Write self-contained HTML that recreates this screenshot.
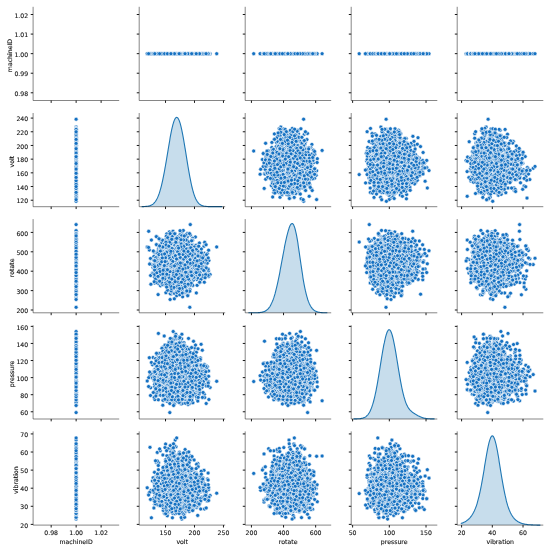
<!DOCTYPE html><html><head><meta charset="utf-8"><style>html,body{margin:0;padding:0;background:#fff;overflow:hidden}svg{display:block;filter:blur(.3px)}</style></head><body><svg width="550" height="549" viewBox="0 0 550 549">
<defs><marker id="m" markerUnits="userSpaceOnUse" markerWidth="5" markerHeight="5" viewBox="-2.5 -2.5 5 5" refX="0" refY="0" overflow="visible"><circle r="2" fill="#1571c2" stroke="#fff" stroke-width=".6"/></marker></defs>
<style>text{font-family:"DejaVu Sans",sans-serif;font-size:6.2px;fill:#111;stroke:#111;stroke-width:.12px}.s{stroke:#000;stroke-width:.48;fill:none}.t{stroke:#000;stroke-width:.9;fill:none}.p{fill:none;stroke:none;marker-start:url(#m);marker-mid:url(#m);marker-end:url(#m)}</style>
<path class="s" d="M33.1,6.8V100.5H119.2"/>
<path class="t" d="M51.17,100.50v2.40M76.14,100.50v2.40M101.12,100.50v2.40M33.12,92.79h-2.40M33.12,73.22h-2.40M33.12,53.65h-2.40M33.12,34.08h-2.40M33.12,14.51h-2.40"/>
<text x="28.22" y="95.99" text-anchor="end">0.98</text>
<text x="28.22" y="76.42" text-anchor="end">0.99</text>
<text x="28.22" y="56.85" text-anchor="end">1.00</text>
<text x="28.22" y="37.28" text-anchor="end">1.01</text>
<text x="28.22" y="17.71" text-anchor="end">1.02</text>
<text transform="translate(11.60,55.55) rotate(-90)" text-anchor="middle">machineID</text>
<polyline class="p" points="210.1,53.7 208.9,53.7 207.4,53.7 208.6,53.7 152.4,53.7 206.5,53.7 151.4,53.7 150.6,53.7 153.1,53.7 206.2,53.7 147.2,53.7 154.9,53.7 208.6,53.7 202.3,53.7 202.4,53.7 204.7,53.7 216.7,53.7 153.9,53.7 208.2,53.7 154.6,53.7 150.9,53.7 208.1,53.7 153.3,53.7 192.8,53.7 160.9,53.7 161.6,53.7 200.7,53.7 206.2,53.7 201.4,53.7 157.8,53.7 201.2,53.7 194.8,53.7 197.1,53.7 202.7,53.7 197.7,53.7 156.9,53.7 160.5,53.7 203.7,53.7 149.6,53.7 159,53.7 193.7,53.7 194.6,53.7 205.1,53.7 160.3,53.7 160.1,53.7 156.5,53.7 198,53.7 188.8,53.7 189.6,53.7 155.8,53.7 185.9,53.7 186.8,53.7 199.7,53.7 168.1,53.7 195.7,53.7 192.6,53.7 154.7,53.7 158.1,53.7 198.9,53.7 176.9,53.7 162.3,53.7 163.8,53.7 162.9,53.7 185.8,53.7 164.3,53.7 163.2,53.7 199.6,53.7 190.1,53.7 166.1,53.7 166.6,53.7 187,53.7 187.3,53.7 168.7,53.7 161.7,53.7 148.6,53.7 206.1,53.7 181.4,53.7 165.1,53.7 185.6,53.7 158,53.7 170.5,53.7 172.8,53.7 188.3,53.7 180.9,53.7 182,53.7 192.6,53.7 189.9,53.7 169.5,53.7 176.6,53.7 164.6,53.7 154.8,53.7 175.4,53.7 177.7,53.7 176.4,53.7 177.9,53.7 176.5,53.7 191,53.7 188,53.7 182.9,53.7 170.7,53.7 167.4,53.7 183.7,53.7 183.9,53.7 192.3,53.7 185.4,53.7 171.4,53.7 172,53.7 159.6,53.7 175.3,53.7 185,53.7 180.4,53.7 173.6,53.7 191.7,53.7 178.6,53.7 174.5,53.7 170.9,53.7 180.2,53.7 196.2,53.7 179.2,53.7"/>
<path class="s" d="M139.2,6.8V100.5H225.2"/>
<path class="t" d="M165.52,100.50v2.40M194.49,100.50v2.40M223.46,100.50v2.40M139.15,92.79h-2.40M139.15,73.22h-2.40M139.15,53.65h-2.40M139.15,34.08h-2.40M139.15,14.51h-2.40"/>
<polyline class="p" points="253.7,53.7 316,53.7 322.1,53.7 260.7,53.7 265,53.7 317.3,53.7 315.4,53.7 316.6,53.7 262.4,53.7 260.1,53.7 317.1,53.7 263.2,53.7 266.8,53.7 267.3,53.7 264,53.7 314.8,53.7 267,53.7 265.5,53.7 268.3,53.7 311.3,53.7 271.9,53.7 312.2,53.7 314.6,53.7 306.9,53.7 309.5,53.7 265.9,53.7 273.5,53.7 306.1,53.7 313.6,53.7 267.2,53.7 274.1,53.7 307.9,53.7 307.6,53.7 270.1,53.7 308.9,53.7 310.8,53.7 269.3,53.7 271.2,53.7 309.9,53.7 276.2,53.7 308.7,53.7 264.2,53.7 275.7,53.7 281,53.7 286.4,53.7 272.7,53.7 282,53.7 302.4,53.7 272.3,53.7 307.5,53.7 305.3,53.7 270.4,53.7 304.2,53.7 278.5,53.7 312.7,53.7 276.7,53.7 305.4,53.7 292.6,53.7 274.4,53.7 270.8,53.7 284.2,53.7 297.2,53.7 290.8,53.7 279.2,53.7 301.5,53.7 274.4,53.7 287.1,53.7 289.6,53.7 291.6,53.7 303.6,53.7 290.2,53.7 300.8,53.7 304.1,53.7 277.9,53.7 300.3,53.7 286.1,53.7 287.3,53.7 296.4,53.7 299.6,53.7 285.9,53.7 280.8,53.7 274.8,53.7 283.7,53.7 282.9,53.7 299.9,53.7 293.5,53.7 285.3,53.7 298.6,53.7 277,53.7 294.1,53.7 284.8,53.7 293.5,53.7 300.2,53.7 279.7,53.7 295.3,53.7 287.4,53.7 275.3,53.7 288.9,53.7 288.7,53.7 290.3,53.7 287.9,53.7 279.9,53.7 302.6,53.7 287.9,53.7 300,53.7 295,53.7 282.4,53.7 297.6,53.7"/>
<path class="s" d="M245.2,6.8V100.5H331.2"/>
<path class="t" d="M251.43,100.50v2.40M283.54,100.50v2.40M315.65,100.50v2.40M245.18,92.79h-2.40M245.18,73.22h-2.40M245.18,53.65h-2.40M245.18,34.08h-2.40M245.18,14.51h-2.40"/>
<polyline class="p" points="421.6,53.7 420.6,53.7 425.1,53.7 424.3,53.7 414.5,53.7 427.3,53.7 429,53.7 422.6,53.7 424.9,53.7 426.7,53.7 419.3,53.7 417.3,53.7 420.5,53.7 418.7,53.7 366.5,53.7 418.2,53.7 369,53.7 423,53.7 371.4,53.7 369.8,53.7 413.1,53.7 412.4,53.7 419.9,53.7 423.7,53.7 423.1,53.7 415.7,53.7 417.1,53.7 416.7,53.7 367.1,53.7 372,53.7 372.3,53.7 368,53.7 413.8,53.7 372.7,53.7 408.4,53.7 405.8,53.7 370.8,53.7 405,53.7 367.7,53.7 415.1,53.7 365.6,53.7 359.2,53.7 412.3,53.7 410.2,53.7 404,53.7 406.8,53.7 414,53.7 408.6,53.7 403.1,53.7 404.9,53.7 370.2,53.7 376.4,53.7 374.7,53.7 409.2,53.7 411.7,53.7 415.1,53.7 375.5,53.7 391.5,53.7 373.6,53.7 395,53.7 387.1,53.7 370.2,53.7 393.7,53.7 411.2,53.7 404.8,53.7 402.5,53.7 376.5,53.7 400.7,53.7 373.8,53.7 407.4,53.7 399.4,53.7 401.5,53.7 394.8,53.7 381.6,53.7 372.8,53.7 375,53.7 379,53.7 376.8,53.7 413.8,53.7 380.3,53.7 399.7,53.7 396.9,53.7 395.8,53.7 385.8,53.7 391.6,53.7 392.7,53.7 398.5,53.7 394.3,53.7 397.5,53.7 383.8,53.7 387.7,53.7 377.5,53.7 383.5,53.7 392.8,53.7 384.9,53.7 379.6,53.7 378.2,53.7 402.4,53.7 401.3,53.7 404.2,53.7 386.3,53.7 380.9,53.7 383.3,53.7 378.2,53.7 382.6,53.7 396.4,53.7 381.3,53.7 390.5,53.7 365.4,53.7 386.2,53.7 388.2,53.7 384.6,53.7 389.1,53.7 389.5,53.7 389.7,53.7"/>
<path class="s" d="M351.2,6.8V100.5H437.3"/>
<path class="t" d="M352.61,100.50v2.40M389.32,100.50v2.40M426.03,100.50v2.40M351.21,92.79h-2.40M351.21,73.22h-2.40M351.21,53.65h-2.40M351.21,34.08h-2.40M351.21,14.51h-2.40"/>
<polyline class="p" points="529.8,53.7 525.2,53.7 533.2,53.7 469.2,53.7 527.4,53.7 527,53.7 528.3,53.7 526.7,53.7 468.9,53.7 466.1,53.7 520.6,53.7 467.2,53.7 525.3,53.7 514.7,53.7 467.6,53.7 470.2,53.7 521.1,53.7 535,53.7 470.6,53.7 471.8,53.7 523.1,53.7 528.5,53.7 521.2,53.7 521.4,53.7 523.4,53.7 472.4,53.7 530,53.7 472.7,53.7 470.7,53.7 519.9,53.7 518.2,53.7 515,53.7 515.9,53.7 517.8,53.7 515.2,53.7 471.2,53.7 519.4,53.7 505.7,53.7 513.6,53.7 513.9,53.7 479.5,53.7 470.8,53.7 473.8,53.7 507.9,53.7 526.6,53.7 477.7,53.7 522.1,53.7 477.5,53.7 478.5,53.7 475.9,53.7 475.7,53.7 507.2,53.7 504.3,53.7 522.2,53.7 501.7,53.7 480.3,53.7 511.4,53.7 506.5,53.7 525.7,53.7 508.6,53.7 475.5,53.7 473.1,53.7 510.5,53.7 473.3,53.7 512.7,53.7 503.9,53.7 512.3,53.7 482,53.7 475.4,53.7 485.2,53.7 473.3,53.7 476.8,53.7 524.1,53.7 519.2,53.7 488.3,53.7 503.5,53.7 474.7,53.7 505.3,53.7 487.8,53.7 498.7,53.7 502.7,53.7 491.9,53.7 511.7,53.7 501.6,53.7 500.3,53.7 516.5,53.7 479.8,53.7 482.8,53.7 517.3,53.7 498.1,53.7 496.9,53.7 500.6,53.7 505.4,53.7 485.8,53.7 481,53.7 485.2,53.7 501.5,53.7 492.6,53.7 478.7,53.7 493.7,53.7 487.4,53.7 499.4,53.7 474.9,53.7 490.2,53.7 494.8,53.7 489.3,53.7 491.2,53.7 494,53.7 509.5,53.7 498,53.7 486.3,53.7 491.6,53.7 495.4,53.7 483.8,53.7 490.5,53.7 508.9,53.7 484.2,53.7 483.9,53.7 486.7,53.7 482.4,53.7 509,53.7 496.4,53.7"/>
<path class="s" d="M457.2,6.8V100.5H543.3"/>
<path class="t" d="M461.60,100.50v2.40M492.31,100.50v2.40M523.02,100.50v2.40M457.24,92.79h-2.40M457.24,73.22h-2.40M457.24,53.65h-2.40M457.24,34.08h-2.40M457.24,14.51h-2.40"/>
<polyline class="p" points="76.1,127.1 76.1,128.4 76.1,198.1 76.1,130.2 76.1,197.4 76.1,128.8 76.1,195.2 76.1,133.9 76.1,131.3 76.1,196.3 76.1,197.3 76.1,194.3 76.1,201.3 76.1,191.7 76.1,192.2 76.1,128.8 76.1,138.4 76.1,136.3 76.1,198.8 76.1,136.1 76.1,133.4 76.1,119.2 76.1,193.4 76.1,129.2 76.1,192.6 76.1,197 76.1,189.2 76.1,129.4 76.1,134.9 76.1,194.1 76.1,147.4 76.1,185.2 76.1,184.4 76.1,138.2 76.1,131.7 76.1,137.3 76.1,140.5 76.1,132.3 76.1,188.8 76.1,144.7 76.1,137.5 76.1,145.1 76.1,142.4 76.1,135.8 76.1,145.6 76.1,141.6 76.1,189.9 76.1,185.6 76.1,134.6 76.1,198.5 76.1,187.4 76.1,146.4 76.1,145.3 76.1,132.9 76.1,185.8 76.1,186.1 76.1,190.3 76.1,155.4 76.1,141.3 76.1,152.2 76.1,151.3 76.1,191.2 76.1,155.6 76.1,149.8 76.1,154.6 76.1,139.3 76.1,176.7 76.1,144 76.1,147.7 76.1,179.8 76.1,192.4 76.1,188.4 76.1,140.2 76.1,166.3 76.1,183.5 76.1,169.7 76.1,181.7 76.1,182.7 76.1,155.7 76.1,181.1 76.1,182.4 76.1,139.4 76.1,150.6 76.1,167.6 76.1,179 76.1,178.4 76.1,154.3 76.1,153.9 76.1,175.9 76.1,157.5 76.1,184.2 76.1,199.7 76.1,131.8 76.1,161 76.1,180.2 76.1,156 76.1,162.9 76.1,174.2 76.1,188.5 76.1,173.8 76.1,171.1 76.1,152.7 76.1,161.5 76.1,160.2 76.1,147.7 76.1,150.9 76.1,174.9 76.1,180.7 76.1,192.4 76.1,168 76.1,165.3 76.1,166.8 76.1,165.1 76.1,166.7 76.1,149.5 76.1,153.1 76.1,159.1 76.1,173.6 76.1,177.4 76.1,158.2 76.1,157.9 76.1,148 76.1,156.2 76.1,172.8 76.1,172 76.1,186.6 76.1,168.2 76.1,156.7 76.1,162.1 76.1,170.1 76.1,148.7 76.1,164.2 76.1,169.1 76.1,173.3 76.1,162.3 76.1,143.4 76.1,163.5"/>
<path class="s" d="M33.1,113V206.7H119.2"/>
<path class="t" d="M51.17,206.65v2.40M76.14,206.65v2.40M101.12,206.65v2.40M33.12,200.22h-2.40M33.12,186.53h-2.40M33.12,172.84h-2.40M33.12,159.15h-2.40M33.12,145.46h-2.40M33.12,131.77h-2.40M33.12,118.08h-2.40"/>
<text x="28.22" y="203.42" text-anchor="end">120</text>
<text x="28.22" y="189.73" text-anchor="end">140</text>
<text x="28.22" y="176.04" text-anchor="end">160</text>
<text x="28.22" y="162.35" text-anchor="end">180</text>
<text x="28.22" y="148.66" text-anchor="end">200</text>
<text x="28.22" y="134.97" text-anchor="end">220</text>
<text x="28.22" y="121.28" text-anchor="end">240</text>
<text transform="translate(13.57,161.70) rotate(-90)" text-anchor="middle">volt</text>
<path d="M142.2,206.7 L142.2,206.6 142.6,206.6 143,206.6 143.4,206.6 143.8,206.6 144.2,206.5 144.6,206.5 145,206.5 145.4,206.5 145.8,206.4 146.2,206.4 146.6,206.4 147,206.3 147.4,206.3 147.8,206.2 148.2,206.1 148.6,206.1 149,206 149.4,205.9 149.8,205.7 150.2,205.6 150.6,205.4 151,205.3 151.4,205.1 151.8,204.9 152.2,204.6 152.6,204.4 153,204.1 153.4,203.7 153.8,203.4 154.2,202.9 154.6,202.5 155,202 155.4,201.5 155.8,200.9 156.2,200.2 156.6,199.5 157,198.8 157.4,198 157.8,197.1 158.2,196.1 158.6,195.1 159,194 159.4,192.8 159.8,191.6 160.2,190.2 160.6,188.8 161,187.3 161.4,185.8 161.8,184.1 162.2,182.4 162.6,180.6 163,178.7 163.4,176.7 163.8,174.7 164.2,172.6 164.6,170.5 165,168.2 165.4,166 165.8,163.7 166.2,161.3 166.6,159 167,156.6 167.4,154.2 167.8,151.8 168.2,149.4 168.6,147 169,144.6 169.4,142.3 169.8,140 170.1,137.8 170.5,135.6 170.9,133.6 171.3,131.6 171.7,129.7 172.1,127.9 172.5,126.3 172.9,124.7 173.3,123.3 173.7,122 174.1,120.9 174.5,119.9 174.9,119.1 175.3,118.4 175.7,117.9 176.1,117.6 176.5,117.4 176.9,117.4 177.3,117.6 177.7,117.9 178.1,118.4 178.5,119.1 178.9,119.9 179.3,120.8 179.7,122 180.1,123.2 180.5,124.7 180.9,126.2 181.3,127.9 181.7,129.7 182.1,131.6 182.5,133.6 182.9,135.7 183.3,137.9 183.7,140.2 184.1,142.5 184.5,144.9 184.9,147.3 185.3,149.7 185.7,152.2 186.1,154.7 186.5,157.2 186.9,159.7 187.3,162.2 187.7,164.6 188.1,167 188.5,169.4 188.9,171.7 189.3,173.9 189.7,176.1 190.1,178.2 190.5,180.2 190.9,182.2 191.3,184 191.7,185.8 192.1,187.5 192.5,189.1 192.9,190.6 193.3,192 193.7,193.3 194.1,194.6 194.5,195.7 194.9,196.8 195.3,197.7 195.7,198.7 196.1,199.5 196.5,200.3 196.9,200.9 197.3,201.6 197.7,202.2 198.1,202.7 198.5,203.1 198.9,203.6 199.3,203.9 199.7,204.3 200.1,204.6 200.5,204.8 200.9,205.1 201.3,205.3 201.7,205.5 202.1,205.6 202.5,205.8 202.9,205.9 203.3,206 203.7,206.1 204.1,206.2 204.5,206.2 204.9,206.3 205.3,206.3 205.7,206.4 206.1,206.4 206.5,206.5 206.9,206.5 207.3,206.5 207.7,206.5 208.1,206.6 208.5,206.6 208.9,206.6 209.3,206.6 209.7,206.6 210.1,206.6 210.5,206.6 210.9,206.6 211.3,206.6 211.7,206.6 212.1,206.6 212.5,206.6 212.9,206.6 213.3,206.6 213.7,206.6 214.1,206.6 214.5,206.6 214.9,206.6 215.3,206.6 215.7,206.6 216.1,206.6 216.5,206.6 216.9,206.6 217.3,206.6 217.7,206.6 218.1,206.6 218.5,206.6 218.9,206.6 219.3,206.6 219.7,206.6 220.1,206.6 220.5,206.6 220.9,206.6 221.3,206.6 221.7,206.6 L221.7,206.7Z" fill="#1f77b4" fill-opacity=".25"/>
<polyline points="142.2,206.6 142.6,206.6 143,206.6 143.4,206.6 143.8,206.6 144.2,206.5 144.6,206.5 145,206.5 145.4,206.5 145.8,206.4 146.2,206.4 146.6,206.4 147,206.3 147.4,206.3 147.8,206.2 148.2,206.1 148.6,206.1 149,206 149.4,205.9 149.8,205.7 150.2,205.6 150.6,205.4 151,205.3 151.4,205.1 151.8,204.9 152.2,204.6 152.6,204.4 153,204.1 153.4,203.7 153.8,203.4 154.2,202.9 154.6,202.5 155,202 155.4,201.5 155.8,200.9 156.2,200.2 156.6,199.5 157,198.8 157.4,198 157.8,197.1 158.2,196.1 158.6,195.1 159,194 159.4,192.8 159.8,191.6 160.2,190.2 160.6,188.8 161,187.3 161.4,185.8 161.8,184.1 162.2,182.4 162.6,180.6 163,178.7 163.4,176.7 163.8,174.7 164.2,172.6 164.6,170.5 165,168.2 165.4,166 165.8,163.7 166.2,161.3 166.6,159 167,156.6 167.4,154.2 167.8,151.8 168.2,149.4 168.6,147 169,144.6 169.4,142.3 169.8,140 170.1,137.8 170.5,135.6 170.9,133.6 171.3,131.6 171.7,129.7 172.1,127.9 172.5,126.3 172.9,124.7 173.3,123.3 173.7,122 174.1,120.9 174.5,119.9 174.9,119.1 175.3,118.4 175.7,117.9 176.1,117.6 176.5,117.4 176.9,117.4 177.3,117.6 177.7,117.9 178.1,118.4 178.5,119.1 178.9,119.9 179.3,120.8 179.7,122 180.1,123.2 180.5,124.7 180.9,126.2 181.3,127.9 181.7,129.7 182.1,131.6 182.5,133.6 182.9,135.7 183.3,137.9 183.7,140.2 184.1,142.5 184.5,144.9 184.9,147.3 185.3,149.7 185.7,152.2 186.1,154.7 186.5,157.2 186.9,159.7 187.3,162.2 187.7,164.6 188.1,167 188.5,169.4 188.9,171.7 189.3,173.9 189.7,176.1 190.1,178.2 190.5,180.2 190.9,182.2 191.3,184 191.7,185.8 192.1,187.5 192.5,189.1 192.9,190.6 193.3,192 193.7,193.3 194.1,194.6 194.5,195.7 194.9,196.8 195.3,197.7 195.7,198.7 196.1,199.5 196.5,200.3 196.9,200.9 197.3,201.6 197.7,202.2 198.1,202.7 198.5,203.1 198.9,203.6 199.3,203.9 199.7,204.3 200.1,204.6 200.5,204.8 200.9,205.1 201.3,205.3 201.7,205.5 202.1,205.6 202.5,205.8 202.9,205.9 203.3,206 203.7,206.1 204.1,206.2 204.5,206.2 204.9,206.3 205.3,206.3 205.7,206.4 206.1,206.4 206.5,206.5 206.9,206.5 207.3,206.5 207.7,206.5 208.1,206.6 208.5,206.6 208.9,206.6 209.3,206.6 209.7,206.6 210.1,206.6 210.5,206.6 210.9,206.6 211.3,206.6 211.7,206.6 212.1,206.6 212.5,206.6 212.9,206.6 213.3,206.6 213.7,206.6 214.1,206.6 214.5,206.6 214.9,206.6 215.3,206.6 215.7,206.6 216.1,206.6 216.5,206.6 216.9,206.6 217.3,206.6 217.7,206.6 218.1,206.6 218.5,206.6 218.9,206.6 219.3,206.6 219.7,206.6 220.1,206.6 220.5,206.6 220.9,206.6 221.3,206.6 221.7,206.6" fill="none" stroke="#1f77b4" stroke-width="1.1" stroke-linejoin="round" stroke-linecap="square"/>
<path class="s" d="M139.2,113V206.7H225.2"/>
<path class="t" d="M165.52,206.65v2.40M194.49,206.65v2.40M223.46,206.65v2.40M139.15,200.22h-2.40M139.15,186.53h-2.40M139.15,172.84h-2.40M139.15,159.15h-2.40M139.15,145.46h-2.40M139.15,131.77h-2.40M139.15,118.08h-2.40"/>
<polyline class="p" points="280.8,127.1 292.3,128.4 272.4,186.3 264,161.5 309.9,154.5 284.3,137.6 281.3,131.5 316.1,175.3 263.2,166.6 253.7,151 305.3,188.5 281.9,195.1 311.9,144.4 299.3,189.3 263.8,153.1 283.9,129 305.8,185.2 265.6,143.3 309.9,185.1 313.6,159.9 271.8,147.5 271.9,142.4 298.4,133.7 273.7,192.5 312.1,153.9 305.1,189.8 264,153.9 309.5,186 322.1,150.4 289.8,198.1 287.5,135.5 313.7,162.6 314.5,178.3 304.4,187.6 297.4,131.3 312.6,161 286.7,194.5 305.4,142 305,147.3 264.5,173.4 260.7,169.3 265.3,169.5 290.2,130.5 265,174.1 297,135.9 290.8,133.9 298,130.2 317.3,158.7 294.2,197.4 270.8,176.5 284.2,133.6 313,158 276.6,142.6 287.2,192.6 311.6,189.3 316.6,199.6 273.3,188.1 300.9,128.8 266.6,152.5 271.7,153.5 266.1,156.3 269.3,170.2 312.6,178.7 316.6,170.8 310.8,147.7 278.6,192.5 288.8,195.2 304.3,134.2 270.4,166.3 277.9,141.7 271.4,185.6 280.3,136.7 271.1,161.4 275.7,188.6 265.7,179.2 274.4,133.9 309.7,179.2 298.6,192.5 302.1,187.9 262.4,159.5 271.4,163.8 297.1,131.3 314.7,154.2 268.7,158.6 301.9,141.8 309.2,196.3 272.1,150.1 293.5,133.2 313.6,150.2 280,197.3 267.8,159.5 273,184.2 260.1,174.2 282.4,139.1 265.6,158.5 266.6,172.6 305.7,148.5 281.9,194.3 277.3,145.6 280.2,143.3 268.6,151.2 275.8,189.5 276.2,146.7 295.8,193.4 308.5,182.3 272.6,163.9 294.4,191.5 305.2,148.9 292.9,131.7 280,135.2 303.9,187.5 292.5,135.3 280.8,143.9 291,135.6 301.8,185.8 317.1,162.5 263.2,153.5 266.8,166.5 313.7,174.6 307,183.9 289.3,192.7 303.6,201.3 265.6,159.8 313.9,169 268.1,150.7 314.5,170.9 274.4,180.7 290.1,188.8 276.9,191.7 273.6,157.9 309.8,169.2 274.3,161.7 304.9,144.1 288.5,193.1 267.8,177.2 309.2,183 312.9,160.5 267.3,173.1 314.6,151.4 285.3,129.4 282.2,192.2 312.3,171.8 285.6,139.2 274.2,190.5 264,162.9 302.6,144.3 301.3,179.1 314.6,174.3 305,148.4 299.8,141.1 277.5,147.9 270.1,155.8 311.8,165.4 314.8,168.4 285.6,136.6 279.2,128.8 267,151.1 273.4,157.5 292.5,138.4 299.4,188.6 307.1,158.7 288.7,141.6 265.5,159.9 286.4,188 272.8,154.6 306.1,133 310.5,161.9 278.5,146.1 278.3,150.3 297.5,136.3 282.6,141.3 306.1,181.2 301.1,198.8 292.5,193.5 293.5,187.1 272.4,183.1 286.1,192.4 305.6,190.5 277.9,136.1 273.1,152.8 310.8,163.9 309.8,169.4 307.5,133.4 275.5,152.9 307.9,152.3 303.6,119.2 309.2,172.6 287.5,183.6 284.6,190.7 285.7,185.4 297.5,140.9 274.9,193.1 307.1,163.3 299.6,193.4 268.3,161.8 280.9,192.4 305.1,179.4 284.8,183.1 303.3,178.9 271.2,166.1 290.9,146.1 303.6,147 309.3,148.2 310.1,173.8 311.3,177.1 298.9,137.3 309.4,155.3 278.9,187.6 300.9,145.2 299.5,179.8 291.9,148.8 276.6,137.9 284.7,149 271.9,175.9 312.2,190.5 294.6,129.2 306.7,166.3 284.6,192.6 288.3,186.2 308.7,167.1 278.5,150.7 289.9,181.7 272.9,157 283.3,148.2 272.7,197 272.4,180.3 299.5,147.3 305.3,152.5 277.1,182.5 295.5,189.2 302.7,151.2 309.9,159 306.1,170.6 291,188.8 288.1,137.5 280.1,129.4 295.5,134.9 300.3,194.1 307.1,162.2 303.5,145.6 288.5,186.7 294.3,184.6 306.3,173.5 285,186.6 302.2,153.7 309.4,158.3 300.4,183.1 274.6,165.4 294.1,190.8 273.6,149.4 274.2,139.4 288.5,188.2 301,184.8 287,132 301.7,147.4 276.3,151.2 292.6,140 269.2,172.7 274.8,186 302,143 272.3,164.1 273.8,169.3 294.7,191.1 299.3,179.5 274.4,184.2 314.6,168.8 310.3,187.4 302.1,185.2 305.2,161.9 300,178.8 273.9,179.4 293.1,184.4 305.1,158.2 306,168.3 292.8,145.6 306.9,139.6 295.3,138.2 276.7,155.4 304.5,169 305.6,155 286.7,181.5 286.3,131.7 301.9,137.3 286.7,145.7 293,145.7 280.8,185.7 308.6,175.6 309.5,161.4 280.8,157.1 301.8,149.9 290,185.9 284.4,143.8 278.9,176.8 304,141.1 304.3,140.5 283,159.9 280.7,132.3 299.6,179.1 298.3,188.8 279.3,151.4 265.9,166.2 269.4,159.8 280.2,155.1 294.6,144.7 287.8,151.5 285,143.6 289.8,137.5 297.7,145.1 267.3,154.5 296.7,141.8 297.8,145.7 289,148.7 292,142.4 294.5,135.8 288.2,145.6 274,163.9 285.2,141.6 303.7,182.1 282.2,189.9 274.8,166.1 272.8,153 273.5,170.5 306.1,161.1 301.5,167 281.6,153 276.6,183.6 313.6,155.8 300.1,185.7 304.2,185.6 278.4,158.8 284.2,134.6 290.5,181.8 282.6,181.8 304.9,168.6 278.8,180.4 286.1,173.1 289.4,198.5 277.7,152.4 302.1,170.4 298.7,169.9 297.3,187.4 277,152.4 294.6,154.2 267.2,164.1 280.4,160.5 278.6,146.4 283.7,160.2 302,148.1 295.2,148.4 281.8,145.3 274.1,173.4 283.3,186.1 303.6,182.9 304.7,158.2 307.9,179.6 307.6,174.6 301.9,170.4 301.8,175.5 278.1,132.9 297.3,183.7 279,154 284.3,157.5 270.1,169.7 308.9,147.8 283,156.2 281.2,182.8 277.1,180.4 310.8,166.5 287.9,177.9 269.3,163 282.4,172.9 298.8,171 292.2,168 290.2,185.8 289.6,186.1 304.3,166.2 283.9,150.9 304.6,176.9 292.9,190.3 285.3,179.5 303.3,157.7 278.1,161.1 296.1,147.8 296.3,177.2 296.1,141.3 290.4,147.7 288.2,143.7 304,165.5 297.3,183.6 299,150.6 307.5,179.2 298.7,162.6 293.2,175.6 291.9,191.2 294.2,155.6 283.2,150.7 293.1,150.8 302.9,149.8 271.2,173.5 301.2,174.3 292.7,171.3 304.5,186.7 277.9,172.8 289.4,179.8 302.2,173.4 280.8,163.4 309.9,172.4 279.9,165.8 282.7,154.6 274.5,139.3 275.3,176.7 290.8,158.1 290.5,167.5 286.6,153.3 283.6,178.2 282.8,144 279.9,160.9 299.3,147.7 294.8,170.9 276.2,169.1 290.5,174.2 294.7,179.7 298.7,179.8 308.7,148.9 283.4,170.2 287.1,174.6 295,167.4 292.3,192.4 292.9,173.3 264.2,188.4 302.2,155.8 280.5,175.8 287.5,140.2 289.3,174.1 300.4,163.3 275.7,157.5 302.8,166.3 281,178.2 286.4,174 294.6,183.5 289.1,167.7 272.7,175.4 291.5,178.5 299.4,177.9 296.1,175.2 285.6,181.7 290.9,163.2 284.2,160.4 283.6,174.9 294.1,174.7 293.7,165.3 302.3,172 282,170.6 290,153.5 277.8,182.7 298.6,155.7 288.1,181.1 284.4,182.4 280.5,139.4 283.2,174.4 287.3,157.6 287.2,164.5 302.4,164.3 287.8,162.1 290.1,150.6 272.3,178.8 284.6,166.7 307.5,167.6 305.3,179 270.4,178.4 304.2,175.8 278.5,163.6 296.9,148.4 296.6,154.3 294.1,161 291.1,153.9 289.3,175.9 312.7,157.5 291.3,184.2 276.7,159.1 303.2,199.7 291.5,159.1 280,170.4 305.4,131.8 300,171.3 292.6,172.7 274.4,161 291.5,180.2 270.8,156.5 279.2,168.8 304,158.1 300.5,174.5 282.7,156 284.2,162.9 297.2,159.1 287.9,168.2 290.8,171.7 288.2,174.2 279.2,188.5 301.5,159.3 274.4,174.9 287.1,173.4 277.5,164.6 287.9,170.1 289.6,165.3 288,173.8 291.6,171.1 296.2,152.7 303.6,161.5 290.2,160.2 300.8,147.7 304.1,164.9 298,150.9 277.9,174.9 283.5,166.6 297.8,180.7 300.3,164.6 286.1,156.6 287.3,192.4 296.4,168 299.6,165.3 285.9,163.5 280.8,166.8 274.8,168.3 283.7,165.1 293.6,166.7 282.9,149.5 299.9,153.1 293.5,158.2 285.3,159.1 298.6,173.6 277,172.2 294.1,157.9 284.8,177.4 293.5,158.2 300.2,157.9 279.7,148 295.3,156.2 288.9,172.8 287.4,172 275.3,186.6 288.9,168.2 288.7,156.7 290.3,162.1 287.9,170.1 279.9,148.7 302.6,164.2 287.9,169.1 300,173.3 295,162.3 282.4,143.4 297.6,163.5"/>
<path class="s" d="M245.2,113V206.7H331.2"/>
<path class="t" d="M251.43,206.65v2.40M283.54,206.65v2.40M315.65,206.65v2.40M245.18,200.22h-2.40M245.18,186.53h-2.40M245.18,172.84h-2.40M245.18,159.15h-2.40M245.18,145.46h-2.40M245.18,131.77h-2.40M245.18,118.08h-2.40"/>
<polyline class="p" points="409.8,188.4 380.9,127.1 370.5,128.4 422.4,167.5 402.6,142.2 394.5,131.5 423,166.4 391.2,193.3 418,137.7 400.3,195.1 386,129 367.9,172.8 419.8,175.8 409.1,189.8 367.1,151.2 418.6,167.6 414.6,145.2 399.5,131.4 370.2,148.6 374.8,189.4 423.1,168.8 381.6,192.5 369.3,150.4 409.9,187 413.6,181.2 421.6,170.8 375.6,142.5 411.3,145.3 413.1,153.4 391.1,198.1 403.9,138.8 406.6,142.7 373.9,141.3 406.6,194.5 411.1,143.2 383.4,133.5 397.9,190.8 406.2,138.4 408.4,144.9 390,130.5 419.6,160.8 375,133.9 398.6,130.2 374.5,187.2 374,197.4 372.1,133.6 371.1,142.6 396.3,192.6 369.1,141.5 417.3,159.4 388.3,189.3 369,178 370.8,151.4 377.7,145 419.3,157.9 400.7,133.8 389.2,199.6 373.9,183.9 369,172 373,143.4 395,128.8 418.8,164.3 408.8,184.7 407.4,183.1 406.2,188.8 417.7,157.6 406.9,143.2 409.6,182.9 368.5,165 366.7,161.1 412.7,170.8 366.3,153.2 415.4,171.2 370.6,179.8 414.6,174.2 396.8,142.2 389,195.2 407.6,182.5 422.8,172.5 412.9,173.2 397.6,136.7 410.1,154.6 416.6,169.1 374.2,147 367.7,147.4 422.7,160.6 369.8,181.9 396.7,191.5 375.2,139.9 383.7,192.5 397.8,131.3 414.3,150.7 417.3,144.2 419.3,163.2 425.1,181.2 377.9,141.8 402.4,196.3 417,157.1 395.1,133.2 367.2,159.5 380.6,197.3 372.5,155.6 416.1,162.8 368.4,162.2 419.1,170.3 376.9,139.1 387.3,188.5 415.4,154.4 377.3,185.9 398.9,134.8 368.8,170.3 394.2,194.3 378.7,140.7 395.3,142.4 413.6,154.4 410.6,150.1 386.9,193.4 367.3,156.1 412,162.4 405.6,191.5 382,131.7 404.9,138.6 389,135.2 415.7,182.3 376.5,135.3 424.3,163.2 372.3,148.3 426.7,167.6 378.4,191.7 394.6,135.6 416.7,160.6 370,171 414.5,183.9 386.4,201.3 415.5,174.2 410.9,150.4 427.3,188 429,170.6 378.8,183.6 422.6,163.3 401.7,142.7 415.7,174.2 407.9,144.2 390.1,187.9 412,182.7 424.9,167.9 408.8,173.7 394.8,138.5 426.7,160.4 372.8,156.4 407.4,175.7 374.2,186 374.4,156.1 379.8,140.8 417.7,175.5 370,161.4 396.4,144.1 377.1,146.1 376.6,147.1 394.6,193.1 411,170.4 406.2,186 407.4,178 385.7,129.4 386.2,192.2 373.3,148.1 399.7,139.2 392.7,190.5 394.7,144.3 370.4,182.1 402.8,144.3 370.2,188.1 367.1,174.6 375.4,155.4 417.9,168.7 405.3,145.6 419.3,175.3 383.3,183.1 411.2,155.8 369.2,166.8 373.9,152 375.3,182.8 417.3,180.3 401.6,185.4 380.8,136.6 390.4,128.8 420.5,146.6 418.7,172.5 406.4,186.6 366.5,169.4 400.1,138.4 387.5,188.1 413.9,151.4 400.7,188 386.8,188.8 393.7,133 380.9,147 409.6,154.1 381.2,145.1 418.2,167.1 412.9,136.3 370.4,156.9 386.1,142.5 404,141.5 406.4,198.8 388,193.5 406.9,149.5 410.6,158.5 369,153.1 391.6,187.1 423,174 370.4,192.4 395.7,190.5 375.4,145.9 408.4,171.7 372.3,136.1 374.2,182.6 415.4,178.6 408.5,169.4 402.6,151.2 391.4,133.4 413,159.2 386.1,119.2 379.1,183.8 371.4,158.2 406.5,183.6 406.9,152 375.7,190.7 374.2,185.4 370.4,175.9 386.9,140.9 372.5,193.1 393.6,193.4 409.9,147 401.3,192.4 404.2,147.8 381.8,146.1 398.7,147 416.5,165.1 407.6,169.3 378,148.2 399.1,137.3 369.9,148.8 387.9,137.9 369.8,182.7 413.1,165.5 386.5,144.5 400.8,151.3 403.7,149 384,190.5 412.4,172.7 406.9,172.7 406.6,176.5 384.7,129.2 410.3,180.8 414,159.7 419.9,172.2 389.4,192.6 398.7,186.2 374.3,181.7 393,197 370.5,169.1 404.4,189.2 377.7,151.2 411.5,168.3 407.6,168.2 386.1,188.8 392,137.5 382,129.4 386,134.9 423.7,162.7 376.5,194.1 399.5,145.6 389.6,186.7 423.1,152.5 370.5,177.7 372.8,156.9 373,157.2 416.1,161.4 373.1,151.4 378.7,154.1 375.4,166 392.7,186.6 397.5,183.1 406,176.4 403.7,190.8 376.2,149.4 390.3,139.4 415.7,157.4 381.8,188.2 399.5,143.5 394.3,132 386.9,140 383,186 399.8,143 373.5,191.1 403.2,178.3 398.5,184.2 384.8,187.4 406.8,155.2 374.6,179.6 410.6,163 417.1,177.3 408.8,179.4 385.1,184.4 416.7,158.2 395.9,149.7 406.8,158.3 387.1,145.6 380.6,139.6 385.6,138.2 408.5,161.2 393.9,184 384.6,181.5 367.1,131.7 406.1,179.7 383.5,137.3 372,163.2 373.4,171.5 383.3,145.7 372,159.7 408.5,163.1 404.7,149.9 394.3,185.9 372.4,175.8 400.5,158.1 372.3,141.1 395,140.5 370.7,159.9 399.1,132.3 408.1,179.1 377.9,188.8 383.3,178.9 401,151.4 368,163.6 378.1,179.3 376.7,177.9 396.8,151.3 397.2,180 380.3,143.6 400,137.5 395.2,145.1 372.9,177.1 370.3,172.4 401.8,154.5 384.6,178.2 393,141.8 392.5,145.7 413.8,167.1 396.6,151.9 392.5,142.4 383.3,135.8 404.4,173.9 404.7,171.5 376.1,152.1 382.3,177.4 396.5,145.6 381.8,141.6 406.9,168.5 386.1,180.6 380.4,182.1 398.9,189.9 377.3,178.4 379.4,175.3 377.4,153 407.3,171.4 405.5,153.9 375.7,161.1 378.9,154.7 372.7,167.1 392.6,183.6 374,182.4 385.6,185.7 388.4,185.6 386.3,178.8 377.4,160.6 408.4,161.4 398.5,169.7 399.6,134.6 405.8,163.7 388.8,181.8 396.7,176.1 370.8,180.4 405,164.4 411.8,163.4 394.2,198.5 375.2,159.2 402.2,187.4 397.7,152.4 404.3,154.2 397.6,161.2 405,166 367.7,153.4 393.8,146.4 377.3,160.2 384.8,148.1 381.1,148.4 415.1,167.8 380.1,148.9 396.3,145.3 391.8,186.1 365.6,182.9 411.2,179.6 359.2,174.6 382,151.1 389.4,132.9 385.6,183.7 389.2,154 399.6,157.5 394.2,182.6 391.5,174.3 388,147.8 391.8,156.2 378.4,182.8 404,180.4 402.7,166.5 412.3,177.9 404,161.4 387.9,185.8 378.8,186.1 388.2,150.9 410.2,190.3 380.2,179.5 376.9,155.4 404,167.9 408.8,157.7 395.7,178.5 406.8,147.8 397.3,177.2 379.7,164 408.9,166.7 398.9,151.7 414,141.3 376,168.5 408.6,159.4 381.1,170.1 379.1,159.7 374.2,147.7 383,143.7 403.1,168.4 404.9,166 385.9,183.6 370.2,151.3 376.4,150.6 385.4,181.9 397.5,175.6 391.8,173.6 391.8,158.6 379.8,191.2 374.7,158.4 409.2,155.6 373,150.7 382.6,150.8 388,149.8 402.6,173.5 392.7,174.3 384.9,168.9 401.8,171.3 378.6,186.7 398.3,179.8 388.8,173.4 411.7,163.4 395,172.4 404.5,165.8 398.5,154.6 384.7,139.3 386.2,159.2 383.3,176.7 378.5,158.1 383.8,167.5 380.9,160.2 393.6,153.3 391.8,178.2 393.7,144 390.2,147.7 394,161.8 376.5,170.9 397.4,179.7 388.9,179.8 399.8,166.6 415.1,148.9 396.5,171.6 382.3,174.6 378.3,167.4 387.5,192.4 373.2,165 398.3,166.5 391.6,173.3 386.8,188.4 381,174.1 375.5,155.8 401.3,175.8 393.8,161.1 381.8,140.2 400.2,174.1 386.8,157.5 389.7,178.2 379.1,174 402.5,183.5 397.5,164.8 390.4,167.7 373.6,175.4 395,169.7 393.6,178.5 393,177.9 377.4,175.2 392.6,181.7 386.5,163.2 394.7,159.3 387.4,174.9 399.5,174.7 393.3,165.3 381.4,153.5 392.5,182.7 389,155.7 399.1,181.1 387.1,182.4 379.1,139.4 382.4,157.6 370.2,164.5 381.5,164.3 399.4,162.1 376.6,150.6 392.8,178.8 383.2,166.7 393.7,167.6 390.2,179 386.2,178.4 411.2,175.8 378.9,168.3 383,163.6 404.8,159.3 402.5,148.4 376.5,154.3 389.5,161 400.7,153.9 385.7,175.9 401.7,162.3 396.9,157.5 391.9,184.2 373.8,159.1 381.7,199.7 379.8,159.1 407.4,170.4 388.1,131.8 399.4,171.3 392.1,172.5 387.7,172.7 383.8,161 401.5,180.2 388,156.5 392.8,168.8 389.8,158.1 382.5,174.5 394.8,156 381.6,162.9 390.4,159.1 380.7,168.2 372.8,171.7 398,174.2 396.5,188.5 390,159.3 375,174.9 379,173.4 391.7,164.6 376.8,170.1 413.8,165.3 380.3,173.8 384.8,171.1 399.7,152.7 396.9,161.5 394.2,160.2 395.8,147.7 397.5,164.9 390.5,150.9 385.8,174.9 388.1,166.6 391.6,180.7 392.7,164.6 398.5,156.6 394.3,192.4 397.5,168 386.2,165.3 383.8,163.5 383.8,166.8 387.7,168.3 377.5,165.1 383.5,166.7 392.8,149.5 384.9,153.1 379.6,158.2 378.2,159.1 381.2,173.6 381.2,172.2 402.4,157.9 401.3,177.4 404.2,158.2 386.3,157.9 380.9,148 383.3,156.2 378.2,172.8 389.7,172 382.6,186.6 396.4,168.2 381.3,156.7 390.5,162.1 365.4,170.1 386.2,148.7 388.2,164.2 389.4,169.1 384.6,173.3 389.1,162.3 389.5,143.4 389.7,163.5"/>
<path class="s" d="M351.2,113V206.7H437.3"/>
<path class="t" d="M352.61,206.65v2.40M389.32,206.65v2.40M426.03,206.65v2.40M351.21,200.22h-2.40M351.21,186.53h-2.40M351.21,172.84h-2.40M351.21,159.15h-2.40M351.21,145.46h-2.40M351.21,131.77h-2.40M351.21,118.08h-2.40"/>
<polyline class="p" points="477.9,188.5 486.1,127.1 472.4,175.1 484.8,128.4 471,171.2 486.4,131.5 471.2,157.2 523.3,173.4 481.8,193.3 489.9,195.1 529.8,179.6 514.2,190.4 525.2,156.6 525.8,173.5 522.7,189.3 533.2,168.3 469.2,141.7 491,129 526.1,176.8 522.6,154.2 467.1,171.6 505.1,143.3 474.7,133.7 511.2,141.1 473.1,154.5 484.9,192.5 527.4,167.4 519.6,150.4 510.6,181.2 527,198.1 501.1,135.5 520.5,182.8 480,138.8 524.1,185.9 483.4,131.3 483.4,194.5 481.8,190.8 484.7,137.1 488.8,133.5 502.6,190.8 488.8,138.4 512.4,141.6 481.6,130.5 484.4,135.9 472.3,156.4 504.8,144.3 528.3,169 482,137.8 525.9,176.6 485.7,133.9 500.1,130.2 482.8,197.4 471.2,176.9 476,143 513.4,141.5 514,187.9 473.4,173.9 487.5,199.6 519.8,176.3 481.9,128.8 522.7,163.3 486.5,192.1 483.5,138.8 483.9,188.1 526.7,180.2 512.6,162.3 472.9,156.2 513.7,160 474.1,147.1 477.2,142.7 472.9,176.8 478.6,192.5 509.2,179.8 512.4,156.1 468.9,177.6 515.3,189.4 498.3,195.2 474.4,156.3 466.1,160.4 507.5,134.2 470.8,180.9 483.8,188 477.4,141.7 512.3,159.9 472.3,180.2 520.2,168.2 481.4,138.3 517.6,157.6 513.4,178.9 478.3,139.9 467.4,161.2 495.2,192.5 509.1,182.7 520.6,173.3 495,131.3 480,141.8 514.3,178.5 467.2,196.3 525.3,170.9 482.9,133.2 489.6,197.3 518.4,151.6 501.2,194.3 472.9,176.8 501.9,140.7 485.9,143.3 517.6,177.6 478.4,189.5 515.5,154.4 518,173.1 467.6,157.1 489.1,138.2 499.7,192.4 507,182.3 470.2,158.3 515.6,191.5 488.7,131.7 521.1,162.8 471.3,159.9 489.9,135.2 473.5,182.3 521.1,160 502.8,189.5 499.1,135.3 479.1,191.7 481,149.6 497.9,135.6 535,166.4 505.8,192.7 509.5,160 489.3,138.9 492.7,201.3 480.3,143.3 517.2,167.9 517.9,164.4 470.6,168.5 472.2,168 508,188 515.7,167.8 474.6,155.2 515.6,162.5 505.4,145.1 502.1,188.8 487.6,191.7 474.8,158.8 516.5,179.5 472.5,151.7 505,186 474.3,178 503.3,154.5 519.4,155 513.1,158.8 500,140.8 474.9,155 513.5,175.5 513.7,168 519.8,178 523.1,152.2 528.5,174.1 482.4,193.1 474.5,179 499.2,129.4 488.1,192.2 521.2,164 517.5,148.1 519.2,171 521.4,162.9 485.5,145.6 511.6,188.1 513.7,165.3 512.6,143 510.5,141.1 523.4,169.8 508.3,163.3 504.6,145.6 509.5,178.8 476.5,155.8 511.5,157 492.9,128.8 501.7,146.6 482,150.3 504.6,150.8 500.4,138.4 501.8,188.1 508.1,147.2 479.8,141.6 500.2,148.2 503.2,188.8 472.4,177.4 491.1,133 477,146.1 487.5,146.3 504.5,150.6 472.5,172.2 472.4,161.3 477.9,147 484.7,145.1 506.2,178.1 496.1,136.3 486.9,141.3 504.6,178.4 513.2,168 484,142.5 530,170.3 488.3,198.8 475.5,193.5 470.7,179.5 516.3,145.9 492.2,136.1 507.1,182 482.5,144.9 519.9,169.4 504.4,181.7 501.3,153.2 495.8,133.4 508,166.1 507.1,152.9 515.1,165.4 488.1,119.2 504.8,156.4 518.2,159.9 484.6,190.7 517.9,175.9 480.5,159.6 512.3,177.8 512.1,155 512.9,164.8 497,193.1 488.8,193.4 509.8,156.1 495.7,192.4 515.8,150.8 512.6,176.7 510.7,164.2 516.5,155.7 503.1,148.9 515,170.9 511.1,159.5 497.7,137.3 526.1,171.3 484.4,187.6 476.9,178.1 502.5,137.9 481.9,157.4 500.5,144.5 501,152.7 507.5,149 500.8,152.3 495.3,129.2 506.1,174.7 510,182.6 494.2,192.6 497.8,186.2 474.6,150.7 510,169.1 483.3,148.2 490.2,197 475.7,182.2 477.5,147.3 515.2,171.6 504.3,189.2 500.6,151.6 508.5,176 501.3,188.8 506.7,137.5 505.1,129.4 492.6,134.9 490.6,194.1 500.9,186.7 480.6,180.3 478,157.2 506.6,158.6 474,174.2 481.2,186.6 482.8,150.2 483.9,149.7 503.3,149.7 515.9,159.9 498.2,188.2 496,184.8 487.3,132 499.1,147.4 478.9,140 504,143 507,166.1 503.8,156.8 496.5,191.1 517.8,158.6 515.2,179.5 485.6,184.2 483.7,187.4 508.1,155.2 478.6,185.2 481.9,179.6 509.1,174.2 473.7,178.8 499.9,183.1 503.9,179.1 476.7,158.3 480.8,145.6 474.7,138.2 481.2,155.4 481.1,184 487.3,181.5 471.2,166.5 475.6,131.7 504.2,137.3 509.4,157.3 479.2,171.5 483.2,180.4 477.7,145.7 485.2,185.7 504.4,159.7 483.1,159.3 507.6,161.4 503.3,149.9 489.4,185.9 519.4,169.6 490.1,143.8 479.8,161.9 488.6,181.4 507.2,177.3 508.2,156.8 474.9,170.8 496.7,140.5 504.4,176.1 486.3,132.3 481.9,179.1 476,178.9 505.7,166.9 507.9,163.6 475.4,179.3 510.5,151.5 490.3,137.5 513.6,169.5 495.8,141.8 494.8,145.7 498.1,148.7 513.9,151.9 511.8,169.6 499.7,142.4 500.1,135.8 510.6,171.5 500,152.1 497.4,145.6 489.1,141.6 487.2,189.9 490,178.4 501,175.3 481.1,152.9 482.4,179.5 479.5,178.5 488.3,181 476.5,154.7 476.9,162.5 479.8,172.4 489.8,183.6 503,155.8 504.3,182.4 492.8,185.6 470.8,163.6 477,178.8 490.3,134.6 491.7,154.2 488.8,198.5 488.3,176 478,152.4 483.7,159.2 489.6,187.4 473.8,152.4 480.1,162.8 504.5,169.8 481.4,165 489.2,146.4 492.9,148.1 507.9,170.6 475.7,159.1 483.7,148.4 500.1,148.9 489.6,145.3 492.3,186.1 498,151.7 478,182.9 484.8,179.6 482,156.4 526.6,170.4 483.9,159 478.1,151.1 495,132.9 478.4,164.5 477.7,183.7 512.1,154 498.3,182.6 481.8,147.8 484.7,182.8 490.1,180.4 496.8,163 522.1,171 491,185.8 477.5,186.1 490,150.9 492.6,176.9 496.2,190.3 500.8,155.4 486.7,178.5 487.6,147.8 478.5,177.2 501.1,164 475.9,166.7 475.7,151.7 498.5,141.3 487.8,170.2 485,159.7 485.9,147.7 484.1,152.2 491.9,143.7 507.2,166 501.9,183.6 486.4,151.3 488.4,150.6 496.6,181.9 504.3,162.6 489.2,175.6 481.3,168.1 504.3,166.4 491.8,191.2 522.2,158.4 498.8,155.6 494.3,150.7 475.2,161 503.4,174.4 501.7,150.8 500.9,149.8 480.3,174.3 511.4,168.9 506.5,171.3 525.7,186.7 508.6,172.8 503.7,163.4 475.5,172.4 501.4,165.8 489.6,154.6 492.6,139.3 486.5,176.7 473.1,167.5 498.6,153.3 491.4,179.8 510.5,178.2 501.2,144 503.7,160.9 473.3,147.7 500.3,161.8 512.7,169.1 476.8,174.2 503.3,179.7 481.3,166.6 487.2,148.9 488.2,167.4 503.9,170.2 491,174.6 499.1,192.4 489,166.5 490.6,173.3 491,188.4 511.9,174.1 484.8,155.8 503.4,175.8 486.5,161.1 493.4,140.2 512.3,174.1 484.4,178.2 494.6,174 491.3,183.5 482,175.4 475.4,169.7 489,172.2 492.9,178.5 486.8,177.9 494.5,175.2 485.2,181.7 473.3,163.2 491.1,160.4 502.9,159.3 486.9,174.9 487.8,165.3 500.6,172 497.4,170.6 485.4,153.5 490.1,182.7 494.2,181.1 503.4,182.4 489.9,139.4 476.8,174.4 490.3,164.3 488.1,150.6 500.7,178.8 498.1,166.7 497.1,179 524.1,178.4 494,175.8 494.9,168.3 493.6,159.3 519.2,148.4 498.6,154.3 488.3,161 495.4,153.9 503.5,175.9 474.7,162.3 491.4,157.5 505.3,184.2 487.8,159.1 486.6,199.7 494.2,159.1 493.7,170.4 489.5,131.8 490,171.3 496.9,172.5 483.6,172.7 498.7,161 491.2,180.2 500.4,168.8 497.5,158.1 495.9,174.5 502.7,156 491.9,162.9 511.7,159.1 501.6,168.2 483.8,171.7 486.9,174.2 494,188.5 500.3,159.3 516.5,174.9 479.8,173.4 487.4,164.6 491.1,170.1 493.7,165.3 485.7,173.8 482.8,171.1 490.5,152.7 496.1,161.5 501.4,160.2 486,147.7 517.3,164.9 494.5,150.9 498.1,174.9 496.9,166.6 500.6,180.7 505.4,164.6 485.8,156.6 481,192.4 485.2,168 501.5,165.3 486.9,163.5 492.6,166.8 478.7,168.3 487.2,165.1 493.7,166.7 494.1,149.5 484.1,153.1 487.4,158.2 495.3,159.1 499.4,173.6 474.9,172.2 490.2,157.9 494.8,177.4 495.9,158.2 489.3,157.9 491.2,148 494,156.2 509.5,172.8 498,172 486.3,186.6 491.6,168.2 495.4,156.7 483.8,162.1 490.5,170.1 508.9,148.7 484.2,164.2 483.9,169.1 486.7,173.3 482.4,162.3 509,143.4 496.4,163.5"/>
<path class="s" d="M457.2,113V206.7H543.3"/>
<path class="t" d="M461.60,206.65v2.40M492.31,206.65v2.40M523.02,206.65v2.40M457.24,200.22h-2.40M457.24,186.53h-2.40M457.24,172.84h-2.40M457.24,159.15h-2.40M457.24,145.46h-2.40M457.24,131.77h-2.40M457.24,118.08h-2.40"/>
<polyline class="p" points="76.1,307.3 76.1,231.9 76.1,224.6 76.1,294.2 76.1,298.8 76.1,293.6 76.1,230.4 76.1,232.7 76.1,231.3 76.1,231.2 76.1,296.8 76.1,299.5 76.1,291.7 76.1,230.7 76.1,295.7 76.1,291.5 76.1,234.5 76.1,233.9 76.1,290.2 76.1,290.8 76.1,294.8 76.1,237 76.1,233.4 76.1,291.2 76.1,293 76.1,289.6 76.1,237.7 76.1,285.3 76.1,236.6 76.1,288.5 76.1,233.7 76.1,243 76.1,239.8 76.1,292.5 76.1,284.9 76.1,290.9 76.1,283.3 76.1,244 76.1,234.9 76.1,291 76.1,282.6 76.1,241.8 76.1,242.1 76.1,287.4 76.1,240.5 76.1,238.3 76.1,288.5 76.1,273.4 76.1,286.2 76.1,245.9 76.1,239.3 76.1,280.1 76.1,240.8 76.1,294.6 76.1,280.7 76.1,274.2 76.1,267.7 76.1,284.2 76.1,261 76.1,252.1 76.1,273.1 76.1,248.4 76.1,284.8 76.1,242.3 76.1,244.9 76.1,287.1 76.1,246.2 76.1,277.3 76.1,255.5 76.1,257 76.1,235.9 76.1,279.5 76.1,247.4 76.1,275.5 76.1,244.8 76.1,260.2 76.1,282.2 76.1,286.6 76.1,276.5 76.1,270.5 76.1,254.6 76.1,262.4 76.1,276.4 76.1,249.5 76.1,282.2 76.1,266.9 76.1,278.5 76.1,263.9 76.1,261.5 76.1,255.9 76.1,246.9 76.1,263.2 76.1,250.4 76.1,246.4 76.1,278 76.1,253.9 76.1,251 76.1,268.2 76.1,266.7 76.1,255.7 76.1,251.8 76.1,268.4 76.1,274.5 76.1,281.7 76.1,271 76.1,272 76.1,251.5 76.1,259.2 76.1,269.1 76.1,253 76.1,279.1 76.1,258.4 76.1,269.7 76.1,259.1 76.1,251.1 76.1,275.8 76.1,257 76.1,264.7 76.1,266.5 76.1,281.2 76.1,264.7 76.1,264.9 76.1,263 76.1,265.9 76.1,275.6 76.1,248.1 76.1,265.9 76.1,251.3 76.1,257.4 76.1,272.6 76.1,254.2"/>
<path class="s" d="M33.1,219.1V312.8H119.2"/>
<path class="t" d="M51.17,312.80v2.40M76.14,312.80v2.40M101.12,312.80v2.40M33.12,310.01h-2.40M33.12,290.61h-2.40M33.12,271.21h-2.40M33.12,251.81h-2.40M33.12,232.41h-2.40"/>
<text x="28.22" y="313.21" text-anchor="end">200</text>
<text x="28.22" y="293.81" text-anchor="end">300</text>
<text x="28.22" y="274.41" text-anchor="end">400</text>
<text x="28.22" y="255.01" text-anchor="end">500</text>
<text x="28.22" y="235.61" text-anchor="end">600</text>
<text transform="translate(13.57,267.85) rotate(-90)" text-anchor="middle">rotate</text>
<polyline class="p" points="158.2,251.1 210.1,274.6 208.9,260.6 159.9,284.6 186.9,239.3 206.3,273.9 169.3,231.9 176.6,295.8 189.8,307.3 158,244.9 152.5,273.1 195.4,237 181.8,231.9 157.3,252.2 186.3,239.4 188,295 208.5,270.8 160.8,244.4 196.3,292.9 160.9,239.4 182.3,234.9 172.6,289.3 206.4,263.4 191.8,283 192.8,285.4 197.1,285.3 204.5,253.3 154.6,283.1 174.8,238.9 187.3,236.7 157,245.2 187.3,294.8 160.2,239.9 190.3,224.6 150,263.6 202.9,266.4 180,234.8 166.7,233.9 158.8,246 206.5,254.4 181.3,236.1 153,267.4 197.4,244.8 193,245.3 170.8,294.2 174.3,298.8 174.1,293.2 207.2,263.2 184.9,236.6 170.2,293.6 204.3,262.5 207.4,253.7 183.3,230.4 150.5,258.4 168.2,286.6 204.6,270.5 183.8,235.6 196.9,279.6 154.6,266.8 157.4,237.3 148.7,231.3 158.4,283.6 208.6,250.2 188.5,291.7 187.7,285.5 185.3,292.3 173.6,288.4 166.3,236.2 173,231.2 192.6,238.3 154.7,277.2 152.4,264.8 204,246.2 176.9,287.1 197.7,278 160.5,285.8 201.9,275.1 181,286.2 165.9,292.7 204.3,282.2 165.9,239.6 154.7,253 158.6,248.8 182.6,296.8 178.9,285.9 206.5,254.8 187.1,233.6 151.4,240.1 190.6,285 204.9,259.2 190.4,234.9 150.6,275.5 168,238.8 182.6,290.2 161.7,284 170.1,299.5 178,288.5 199.9,272.5 183.5,292.9 171.5,291.7 191.9,244.4 153.1,273.2 194.4,278.8 196.3,275.2 189.7,289.2 157.2,280.6 193.4,280 153.9,256.4 200.6,262.3 178.9,284.4 155.5,258.1 191.6,245.1 206.2,260 189.6,281.2 203.2,275.5 158.9,246.6 203.1,260.3 195.8,274.5 202.8,262.2 160.4,249.1 180,230.7 187.7,295.7 176.7,291.5 169.8,234.8 161.9,242.9 185.8,239.8 154.5,264.2 147.2,247 182.3,292.9 174.6,234.5 190,289.8 173,233.9 155.4,279.2 184,283.2 174.4,239.4 157.9,255.8 195.6,245.4 154.1,265.2 167.6,290.2 162.7,240.3 181.7,235.8 171.1,290.8 189.5,233.6 208.1,269.1 154.9,272.8 172.2,236.5 199.8,268.7 156.3,282.5 179.7,294.8 166,249.7 170.1,233.6 162.3,248.6 192,245.3 198.1,251.5 192.4,278.4 185.7,287.5 177.6,237 175.1,233.4 202,268.7 208.6,276.5 189.7,291.2 184.3,283.4 200.5,260.4 157.9,252 183.3,242.7 197.8,265 182.2,293 158.5,267.7 205.1,244 182.3,243.6 180.6,238.6 193.9,277.3 190.4,277.5 202.3,254.4 198,272.3 164.3,244 149.3,250 153.9,260.3 159.2,259.1 162.6,284.6 154.8,268.1 156.4,244.6 190.3,268.5 202.4,278 195,263.5 178.9,238.2 174.2,239.5 204.7,242.3 188.2,280.9 188.7,241.8 216.7,246.9 171.5,240.2 156.2,269.9 160.7,268.6 198.3,254.3 154.2,281.7 179.4,242.8 153.9,251.8 180.7,289.6 154.7,274.4 165.8,245.2 162.6,269.7 166.1,247.3 188.1,280.1 177,286.1 194,262.4 193.1,246.9 192.2,240.1 170.5,239.1 167.7,237.7 201.4,252.7 186.1,240 172.6,245.7 158.8,276.8 194.7,250.2 174.1,247.4 200.9,279.6 191.5,269.8 162.2,275.3 156.3,236.6 188.7,267.1 208.2,257.9 173.9,283.5 176.9,243.3 154.6,270 160,265.5 176.2,240.8 190.1,277.3 172,243.5 184.7,284.1 192.1,271.5 150.9,284.2 165,284.7 192.9,251.9 188.5,245 163.1,279 157.5,256.7 189.6,248.1 183,239.4 173.2,243.9 189.3,280.7 157.8,262.2 201.2,265.7 208.1,275.3 203.4,256.8 153.3,251 180.3,242.7 194.4,247 159.6,265.2 161.3,258.2 189.5,270.6 170.8,243.8 159.7,269.4 187.5,248.7 183.6,239.9 162.6,250.9 156.1,258.4 191.1,283.2 199.6,282.5 158.3,265.2 161.2,250.1 205.9,267.1 192.8,249.3 189.6,280 199.1,260.2 171.4,288.5 160.2,281.8 196.6,249 178.7,284.8 174.3,282.9 155.9,257.8 165.7,252.2 161.7,282.2 174.7,233.7 159,238.8 160.9,248.8 180.6,245 166.3,251.4 178.1,279.7 165.8,282.9 161.6,259.7 183.7,245.1 175.1,244 188.7,278.2 194.4,260 199.4,243 200.7,257 186,279.5 174.6,245.9 186.4,244.6 161.9,274.9 164,267.3 206.2,267.9 201.4,249 194.3,267.4 194.3,259.8 160.4,274.6 168.9,240.9 181,239.8 184.7,274.5 190.7,249.2 195.9,270.2 168,276.8 198.2,246.5 198.7,246.2 205.6,274.6 166,251.9 157.8,253.3 189.5,276.4 176.9,292.5 182.4,288.2 186.3,275.2 195.1,257.8 172.8,284.9 189.4,266 196.1,269.4 201.2,263.7 194.8,254.1 186.8,290.9 197.6,255.3 194.3,254 191.7,264.6 197.1,260.9 202.7,257.9 187.2,266.4 194.3,265.6 178.9,282.7 197.7,269.2 163.4,246.9 156.9,272.8 177.1,281.7 188.1,284.2 173.3,283.3 181.2,244 176.3,249.5 188.1,273.6 162.2,279.5 185.8,234.9 160.4,251.2 160.5,246.3 183.2,277.5 203.7,270.4 163.8,272.4 174.9,245.4 164.9,276.9 171.1,268.1 181.7,271.7 149.6,264.1 188.6,278.3 173.4,248.7 173.8,252.9 159,254.6 188.6,279.1 173.9,268.5 178.7,291 181.7,274.9 193.7,277.2 170.7,254.2 182,271.1 192.2,248.9 192,257.1 194.6,273.3 170.9,282.6 160.1,271.5 162.8,247 183.7,245.6 165.6,241.8 169.8,242.1 173.4,249.1 169,249.1 189.7,252.4 205.1,277.8 162.1,254.6 187.3,276.7 173.9,287.4 192.5,240.5 185.4,271.8 162.9,274 164.9,278.9 176.7,238.3 167,265.9 179.6,288.5 179.4,271.7 172.9,252.8 160.3,263.1 160.1,263.9 176.9,246.1 189.9,270.8 167.9,245.7 156.5,259.9 165.6,269.1 186.1,268.3 184.1,247.3 181.2,277.8 192.5,256 167.7,255.8 198,256 173.6,267.4 192.6,263 196,265.6 177.5,246.5 162.2,254.6 189.6,262.3 190.1,252.5 166,242.2 180,252.9 155.8,261.1 185.9,258.4 190.1,271.6 190,259.7 190.8,247.8 170.8,286.2 170.1,249.9 159.6,245.9 171.4,278.1 165.4,264.2 170.8,248.7 179.3,274.5 171.7,239.3 177.3,275.6 186.8,272.3 199.7,282.2 168.1,281.2 175.8,262.8 187.8,267.6 165.4,259.2 166.8,271.2 195.7,272.1 181.5,275.6 192.6,252.2 172.9,257.6 174.5,280.1 170.2,262.8 165.5,257.7 165.4,252.9 191.6,240.8 175.9,266.9 173.6,271.4 172.3,250.9 169.8,266.9 175.9,257.3 154.7,260.7 170.9,259.9 158.1,294.6 185.7,248.7 168.8,274.9 198.9,266.4 170.2,264.2 179.4,250.8 184.3,280.7 176.9,247.9 166.8,274.2 170.4,267.7 162.3,257.9 175.6,264.6 169.2,284.2 171.8,261 166.5,261.6 167,252.1 169.3,256 163.8,268.7 179.5,262.3 181.9,270.4 169.6,271.2 169.8,258.5 177.7,258.9 172,248.5 173.2,273.1 187.7,263.4 162.9,278.2 185.8,253 164.3,265.6 163.2,270.2 199.6,274.9 170,271.6 184.2,266.7 178.4,266.8 178.5,248.4 180.4,266 190.1,263.3 166.3,284.8 176.5,269.9 175.8,242.3 166.1,244.9 166.6,287.1 168.8,246.2 179.1,277.3 192,255.1 187,255.5 181.3,258.4 187.3,262.1 168.7,264.2 180.2,257 184.3,235.9 161.7,261.8 183,279.5 148.6,247.4 182.9,261.6 173.4,275.5 206.1,244.8 172.6,251.3 171.6,264.4 171.4,260.2 181.4,282.2 165.1,261.6 185.1,286.6 174.8,276.5 183.8,246.5 169.9,250.7 185.6,272.2 179.7,270.5 183,254.6 175.3,265.9 172.3,262.4 170.1,265.6 158,276.4 182.7,249.5 169.6,282.2 170.8,266.9 178.3,278.5 173.6,266 177.7,263.9 170.5,265.8 172.8,261.5 188.3,255.9 180.9,246.9 182,263.2 192.6,250.4 178,246.4 189.9,253.7 169.5,278 176.6,271.3 164.6,253.9 178.3,251 185,268.2 154.8,266.7 175.4,255.7 177.7,251.8 179.2,268.4 176.4,274.5 175.1,281.7 177.9,271 176.5,259 191,272 188,251.5 183.7,259.2 182.9,269.1 170.7,253 171.8,279.1 184,258.4 167.4,269.7 183.7,259.1 183.9,251.1 192.3,275.8 185.4,257 171.4,264.7 172,266.5 159.6,281.2 175.3,264.7 185,264.9 180.4,263 173.6,265.9 191.7,275.6 178.6,248.1 174.5,265.9 170.9,251.3 180.2,257.4 196.2,272.6 179.2,254.2"/>
<path class="s" d="M139.2,219.1V312.8H225.2"/>
<path class="t" d="M165.52,312.80v2.40M194.49,312.80v2.40M223.46,312.80v2.40M139.15,310.01h-2.40M139.15,290.61h-2.40M139.15,271.21h-2.40M139.15,251.81h-2.40M139.15,232.41h-2.40"/>
<path d="M248.9,312.8 L248.9,312.8 249.3,312.8 249.7,312.8 250.1,312.8 250.5,312.8 250.9,312.8 251.3,312.8 251.7,312.8 252.1,312.8 252.4,312.8 252.8,312.8 253.2,312.8 253.6,312.8 254,312.8 254.4,312.8 254.8,312.8 255.2,312.8 255.6,312.7 256,312.7 256.4,312.7 256.8,312.7 257.1,312.7 257.5,312.7 257.9,312.7 258.3,312.6 258.7,312.6 259.1,312.6 259.5,312.6 259.9,312.5 260.3,312.5 260.7,312.4 261.1,312.4 261.5,312.3 261.8,312.2 262.2,312.1 262.6,312.1 263,311.9 263.4,311.8 263.8,311.7 264.2,311.5 264.6,311.4 265,311.2 265.4,311 265.8,310.8 266.1,310.5 266.5,310.3 266.9,309.9 267.3,309.6 267.7,309.3 268.1,308.9 268.5,308.4 268.9,307.9 269.3,307.4 269.7,306.9 270.1,306.3 270.5,305.6 270.8,304.9 271.2,304.1 271.6,303.3 272,302.4 272.4,301.5 272.8,300.5 273.2,299.5 273.6,298.4 274,297.2 274.4,295.9 274.8,294.6 275.2,293.2 275.5,291.8 275.9,290.3 276.3,288.7 276.7,287.1 277.1,285.4 277.5,283.6 277.9,281.8 278.3,279.9 278.7,278 279.1,276.1 279.5,274.1 279.9,272 280.2,270 280.6,267.9 281,265.8 281.4,263.6 281.8,261.5 282.2,259.4 282.6,257.3 283,255.1 283.4,253 283.8,251 284.2,248.9 284.5,246.9 284.9,244.9 285.3,243 285.7,241.1 286.1,239.3 286.5,237.6 286.9,235.9 287.3,234.3 287.7,232.8 288.1,231.3 288.5,230 288.9,228.8 289.2,227.7 289.6,226.7 290,225.8 290.4,225 290.8,224.4 291.2,224 291.6,223.7 292,223.6 292.4,223.6 292.8,223.8 293.2,224.2 293.6,224.8 293.9,225.6 294.3,226.5 294.7,227.7 295.1,229 295.5,230.6 295.9,232.3 296.3,234.1 296.7,236.1 297.1,238.3 297.5,240.6 297.9,243 298.2,245.5 298.6,248.1 299,250.8 299.4,253.5 299.8,256.3 300.2,259 300.6,261.8 301,264.5 301.4,267.2 301.8,269.9 302.2,272.5 302.6,275 302.9,277.5 303.3,279.8 303.7,282.1 304.1,284.3 304.5,286.3 304.9,288.3 305.3,290.2 305.7,291.9 306.1,293.6 306.5,295.1 306.9,296.6 307.3,297.9 307.6,299.2 308,300.3 308.4,301.4 308.8,302.4 309.2,303.4 309.6,304.2 310,305 310.4,305.8 310.8,306.4 311.2,307.1 311.6,307.6 312,308.1 312.3,308.6 312.7,309 313.1,309.4 313.5,309.8 313.9,310.1 314.3,310.4 314.7,310.7 315.1,310.9 315.5,311.1 315.9,311.3 316.3,311.5 316.6,311.6 317,311.8 317.4,311.9 317.8,312 318.2,312.1 318.6,312.2 319,312.3 319.4,312.3 319.8,312.4 320.2,312.5 320.6,312.5 321,312.5 321.3,312.6 321.7,312.6 322.1,312.6 322.5,312.7 322.9,312.7 323.3,312.7 323.7,312.7 324.1,312.7 324.5,312.7 324.9,312.7 325.3,312.8 325.7,312.8 326,312.8 326.4,312.8 326.8,312.8 L326.8,312.8Z" fill="#1f77b4" fill-opacity=".25"/>
<polyline points="248.9,312.8 249.3,312.8 249.7,312.8 250.1,312.8 250.5,312.8 250.9,312.8 251.3,312.8 251.7,312.8 252.1,312.8 252.4,312.8 252.8,312.8 253.2,312.8 253.6,312.8 254,312.8 254.4,312.8 254.8,312.8 255.2,312.8 255.6,312.7 256,312.7 256.4,312.7 256.8,312.7 257.1,312.7 257.5,312.7 257.9,312.7 258.3,312.6 258.7,312.6 259.1,312.6 259.5,312.6 259.9,312.5 260.3,312.5 260.7,312.4 261.1,312.4 261.5,312.3 261.8,312.2 262.2,312.1 262.6,312.1 263,311.9 263.4,311.8 263.8,311.7 264.2,311.5 264.6,311.4 265,311.2 265.4,311 265.8,310.8 266.1,310.5 266.5,310.3 266.9,309.9 267.3,309.6 267.7,309.3 268.1,308.9 268.5,308.4 268.9,307.9 269.3,307.4 269.7,306.9 270.1,306.3 270.5,305.6 270.8,304.9 271.2,304.1 271.6,303.3 272,302.4 272.4,301.5 272.8,300.5 273.2,299.5 273.6,298.4 274,297.2 274.4,295.9 274.8,294.6 275.2,293.2 275.5,291.8 275.9,290.3 276.3,288.7 276.7,287.1 277.1,285.4 277.5,283.6 277.9,281.8 278.3,279.9 278.7,278 279.1,276.1 279.5,274.1 279.9,272 280.2,270 280.6,267.9 281,265.8 281.4,263.6 281.8,261.5 282.2,259.4 282.6,257.3 283,255.1 283.4,253 283.8,251 284.2,248.9 284.5,246.9 284.9,244.9 285.3,243 285.7,241.1 286.1,239.3 286.5,237.6 286.9,235.9 287.3,234.3 287.7,232.8 288.1,231.3 288.5,230 288.9,228.8 289.2,227.7 289.6,226.7 290,225.8 290.4,225 290.8,224.4 291.2,224 291.6,223.7 292,223.6 292.4,223.6 292.8,223.8 293.2,224.2 293.6,224.8 293.9,225.6 294.3,226.5 294.7,227.7 295.1,229 295.5,230.6 295.9,232.3 296.3,234.1 296.7,236.1 297.1,238.3 297.5,240.6 297.9,243 298.2,245.5 298.6,248.1 299,250.8 299.4,253.5 299.8,256.3 300.2,259 300.6,261.8 301,264.5 301.4,267.2 301.8,269.9 302.2,272.5 302.6,275 302.9,277.5 303.3,279.8 303.7,282.1 304.1,284.3 304.5,286.3 304.9,288.3 305.3,290.2 305.7,291.9 306.1,293.6 306.5,295.1 306.9,296.6 307.3,297.9 307.6,299.2 308,300.3 308.4,301.4 308.8,302.4 309.2,303.4 309.6,304.2 310,305 310.4,305.8 310.8,306.4 311.2,307.1 311.6,307.6 312,308.1 312.3,308.6 312.7,309 313.1,309.4 313.5,309.8 313.9,310.1 314.3,310.4 314.7,310.7 315.1,310.9 315.5,311.1 315.9,311.3 316.3,311.5 316.6,311.6 317,311.8 317.4,311.9 317.8,312 318.2,312.1 318.6,312.2 319,312.3 319.4,312.3 319.8,312.4 320.2,312.5 320.6,312.5 321,312.5 321.3,312.6 321.7,312.6 322.1,312.6 322.5,312.7 322.9,312.7 323.3,312.7 323.7,312.7 324.1,312.7 324.5,312.7 324.9,312.7 325.3,312.8 325.7,312.8 326,312.8 326.4,312.8 326.8,312.8" fill="none" stroke="#1f77b4" stroke-width="1.1" stroke-linejoin="round" stroke-linecap="square"/>
<path class="s" d="M245.2,219.1V312.8H331.2"/>
<path class="t" d="M251.43,312.80v2.40M283.54,312.80v2.40M315.65,312.80v2.40M245.18,310.01h-2.40M245.18,290.61h-2.40M245.18,271.21h-2.40M245.18,251.81h-2.40M245.18,232.41h-2.40"/>
<polyline class="p" points="374.3,238.4 422.4,273.2 397,289.5 390.9,231.9 415.9,250 423,254.7 385.8,295.8 386,307.3 371.3,240.4 418,264.8 413.2,270.7 381.1,237 394.8,231.9 370.9,245.9 408.3,239.4 390.6,295 380,289 376.6,292.9 367.9,256.8 419.8,260.5 418.6,260.9 411.3,248.9 379.2,234.9 372.7,289.3 370.2,283 375.9,286.1 385.4,235.7 368.7,255.7 423.1,254.7 401.8,294.8 369.3,224.6 421.6,255.4 378.6,234.8 405.6,243 395.9,288.7 398.7,236.1 415.1,267.6 368,246.8 411.1,277.8 416,269.9 372.3,281.3 413.4,266.6 420.6,294.2 387.2,298.8 393.1,293.2 398.9,239.8 405.1,238.6 419.6,256.7 394.1,293.6 377.9,289.9 381.5,230.4 409.5,278.6 371.1,279.6 390.7,232.7 372.7,283.4 417.3,251 369.8,241.2 388.3,237.3 369,254.5 419.3,254.1 413.7,251.5 415.3,272.7 389.2,231.3 417.1,258.2 378,291.7 418.8,271.7 415.9,276.9 417.9,279.3 417.7,272.7 418.2,279.4 367.7,248 368.5,239.1 366.7,272.6 393.5,236.2 412.7,231.2 407.3,284 406.1,280.1 366.3,264.2 411.5,247.2 409.1,276.1 416.6,269.6 396.8,288.4 375.5,242.6 422.8,279.8 412.9,238.6 382.1,238.6 367.7,265.9 422.7,276.3 411,279.8 389.2,292.7 415,277.5 394.1,296.8 380.3,240 417.3,264.8 419.3,241 425.1,268.9 391.5,233.6 399.1,289.2 402.4,240.1 417,272.6 408.7,242.4 367.2,260.1 396.9,234.9 416.1,267.2 391,299.5 368.4,248.6 409.2,280.3 419.1,266.2 369.1,269.2 399.3,292.9 388.6,291.7 402,243.1 411.8,266.5 404.7,246 410.6,267 407.3,277.1 413.6,275.2 399,241 377.4,279.9 402.6,285.9 412.1,271.3 415.7,250.5 412.8,265.7 424.3,249.4 426.7,255.7 385.6,230.7 401.2,295.7 370,277.3 397.8,234.8 414.5,242.9 379.2,284.5 415.5,253.8 383.3,292.9 410.9,271.1 392.3,234.5 427.3,263.8 429,250.8 388.1,289.8 407.9,279 422.6,244.8 415.7,261.2 392.5,233.9 402,281.2 378.2,282.3 412,273.2 374.2,281.1 424.9,253.5 408.8,253.8 409.6,283.2 381.7,239.4 380.8,283.8 426.7,272.5 410.5,265.8 417.7,260.5 370,247 411,249.6 384.2,290.2 406.1,279.8 387,290.8 407.4,245.3 378.4,233.6 390.9,236.5 410.2,269.5 379.9,294.8 370.4,256.5 388.5,233.6 367.1,258.1 417.9,252.3 378.5,277.6 382.8,243.4 397.9,285.1 383.5,239.2 419.3,254.9 394.7,287.5 369.2,268.6 417.3,255.9 398.1,237 377.6,240.4 391.1,233.4 420.5,256.5 382.1,291.2 418.7,254.4 401.2,286.5 366.5,264.2 401.4,279.5 413.9,273.7 395.7,242.7 395.5,293 409.6,257.6 401.7,247.8 393.3,243.3 393.5,280.9 404.9,246.2 418.2,266.6 396.3,240.1 411.4,251.8 369,249.9 423,269.1 396.3,284.6 407.1,282.5 370.4,268.1 412.8,280.7 372.3,278 374.2,273.6 385.1,238.2 398.7,279.3 408.5,239.5 402.6,273.1 391.4,242.3 413,259.9 379.3,240.2 402.5,270.4 371.4,246.4 375.4,276 390.1,284 405.2,246.5 370.4,275.1 400.2,245.1 374.1,276.3 372.5,281.7 379.8,242.8 390.4,289.6 409.9,269.6 401.3,274.4 374.9,286.1 406.2,245.8 416.5,260.2 407.6,246.5 378,240.1 397.1,239.1 388.7,237.7 378.6,276.8 369.9,261.1 369.8,257.2 413.1,261 374.8,251.7 403.7,269.8 380.9,285.3 384,236.6 412.4,262.7 406.9,255.1 400.8,276.9 410.3,262.8 414,254.5 419.9,249.1 402.6,283.5 379.8,243.3 395.6,240.8 385.2,243.5 406.5,261.9 377,273.3 381,284.7 401.5,248.3 370.5,266.4 387.7,245 389.8,239.4 373.9,245.6 411.5,256.8 407.6,267.3 383.1,273.4 423.7,260.9 376.5,251 406,264 404.7,242.7 399.5,247 423.1,262.2 370.5,272.9 372.8,258.9 373,259.4 416.1,275.3 373.1,270.6 378.8,243.8 375.4,261.9 384.4,239.9 374.3,267.9 376.2,283.2 390.3,282.5 415.7,246.4 394.5,278.9 405.6,267.9 373.7,254.5 377.1,269.5 396,288.5 399.8,249 397,284.8 396.6,282.9 373.5,257.8 398.5,282.2 401.7,233.7 384.8,238.8 406.8,260.8 374.6,257.8 410.6,264.6 383.4,244.7 381.5,282.3 417.1,257.2 382.4,245 408.8,282.9 416.7,245.1 377,244 406.8,272.5 380.6,243 408.5,258 380.5,279.5 405.4,245.9 397.4,244.6 406.9,272.2 367.1,267.9 406.1,261.5 372,250.6 373.4,275.7 383.2,272 391.6,240.9 372,253.6 408.5,273.7 393.2,239.8 372.3,246.5 395,246.2 370.7,271.9 399.1,274.6 408.1,251.9 400.8,250.2 401,276.4 392,292.5 368,252.7 390.9,288.2 378.9,275.2 384.2,284.9 393.1,278.7 370.3,251.4 401.8,290.9 413.8,254.4 404.7,263.3 376.1,262.2 374.9,256.2 402,282.7 406.9,277 398.9,272.8 377.3,259.3 392.1,281.7 377.4,284.2 386.5,283.3 407.3,270.8 405.5,252.4 375.7,244 378.9,252.6 372.7,266.4 392.6,279.5 397.4,234.9 374,255.4 408.4,250.9 403.5,249.5 405.8,251.8 400.2,268.8 384.6,245.4 370.8,276.9 405,265.9 411.8,255.5 398.9,252.8 380.7,248.7 375.2,263 402.2,254.6 397.7,279.1 404.3,257.9 391.5,291 397.6,268.4 405,266.9 367.7,262.2 393.8,277.2 377.3,271.1 384.8,248.9 381.1,257.1 415.1,278 380.1,254.1 396.3,273.3 386.9,282.6 365.6,247 377.4,245.6 411.2,241.8 359.2,242.1 382.2,249.1 386.5,249.1 382,252.4 396.7,250.1 385.6,254.6 382,287.4 388,240.5 378.4,274 404,278.9 402.7,238.3 412.3,265.9 382.8,288.5 404,251.2 394.7,252.8 384.2,266.9 394.3,246.1 388.2,270.8 387.1,268.5 385.7,245.7 410.2,259.9 376.9,268.3 404,266.3 408.8,247.3 390,277.8 395.7,261.9 406.8,256 397.3,255.8 408.9,271.1 398.9,262.5 414,256 378.1,267.4 408.6,248.8 379.1,254.7 374.2,263 382.1,246.5 403.1,263.5 404.9,247.9 385.9,254.6 370.2,262.3 376.4,252.5 400.7,242.2 379.1,271 388,252.9 397.5,259.5 387.6,247.4 379.9,274.9 391.8,257.2 374.7,265.2 409.2,258.4 373,271.6 392.1,268.7 382.6,250.3 388,247.8 402.6,286.2 378.6,245.9 397,278.1 398.3,264.2 411.7,274.5 395,239.3 404.5,275.6 398.5,272.3 384.7,282.2 386.2,257.6 378.5,262.5 383.8,262.8 391.7,259.2 391.8,271.2 394,248.5 376.5,257.6 389.3,280.1 397.4,257.7 388.9,252.9 399.8,272 415.1,240.8 394.9,266.9 394.9,271.4 396.5,250.9 378.3,257.3 373.2,265.3 386.8,294.6 375.5,248.7 401.3,274.9 393.8,259.4 400.2,264.2 386.8,280.7 392.3,247.9 389.7,274.2 373.6,284.2 395,276.2 393.6,261.6 393,252.1 377.4,256 392.6,268.7 386.5,262.3 394.7,256.7 399.5,258.5 393.3,258.9 379.2,248.5 390.5,273.1 381.4,263.4 392.5,278.2 389,253 387.1,270.2 379.1,274.9 385.2,271.6 382.4,266.7 370.2,266.8 381.5,248.4 399.4,266 376.6,263.3 392.8,284.8 383.2,269.9 393.7,242.3 390.2,244.9 386.2,287.1 411.2,246.2 383,277.3 404.8,256.9 402.5,255.1 376.5,255.5 389.5,258.4 400.7,262.1 385.7,264.2 401.7,257 396.9,235.9 391.9,261.8 373.8,279.5 381.7,247.4 379.8,261.6 407.4,275.5 388.1,244.8 399.4,251.3 392.1,264.4 387.7,260.2 383.8,282.2 401.5,261.6 388,286.6 392.8,276.5 389.8,246.5 382.5,250.7 394.8,272.2 381.6,270.5 390.4,254.6 380.7,265.9 372.8,262.4 398,265.6 396.5,276.4 390,249.5 375,282.2 379,266.9 391.7,278.5 376.8,266 413.8,263.9 380.3,265.8 384.8,261.5 399.7,255.9 396.9,246.9 394.2,263.2 395.8,250.4 397.5,246.4 390.5,253.7 385.8,278 388.1,271.3 391.6,253.9 392.7,251 398.5,268.2 394.3,266.7 397.5,255.7 386.2,251.8 383.8,268.4 383.8,274.5 387.7,281.7 377.5,271 383.5,259 392.8,272 384.9,251.5 379.6,259.2 378.2,269.1 381.2,253 381.2,279.1 402.4,258.4 401.3,269.7 404.2,259.1 386.3,251.1 380.9,275.8 383.3,257 378.2,264.7 389.7,266.5 382.6,281.2 396.4,264.7 381.3,264.9 390.5,263 365.4,265.9 386.2,275.6 388.2,248.1 389.4,265.9 384.6,251.3 389.1,257.4 389.5,272.6 389.7,254.2"/>
<path class="s" d="M351.2,219.1V312.8H437.3"/>
<path class="t" d="M352.61,312.80v2.40M389.32,312.80v2.40M426.03,312.80v2.40M351.21,310.01h-2.40M351.21,290.61h-2.40M351.21,271.21h-2.40M351.21,251.81h-2.40M351.21,232.41h-2.40"/>
<polyline class="p" points="507.9,284.5 483.4,289.5 480.5,294.8 492,231.9 471.2,263.5 496.7,236.4 518.3,278.2 523.3,278.2 509,295.8 504.9,307.3 529.8,258.7 484.6,237.9 525.2,279 525.8,254.7 522.7,252.2 513.1,271.1 493.1,295 533.2,264.6 469.2,259.6 507.3,239.3 474.6,281.2 526.1,276.3 504.7,292.9 497.6,239.4 518.7,269.6 522.6,256.1 467.1,258.7 501.3,286.1 513.8,248.8 509.1,243.9 485.6,235.7 515.3,271.2 500.8,238.9 478.5,236.7 527.4,248.6 482.2,294.8 519.6,224.6 527,263.6 520.5,255.4 504.1,242 473.1,247.5 524.1,282.9 503,236.1 509.3,281.2 495.9,294.2 512,271.5 490.6,298.8 473,258.8 510.5,293.2 479.8,239.8 514.4,284.1 511.8,282 485.5,236.6 493.5,293.6 479.4,284.5 528.3,250.6 525.9,289.3 486.3,289.9 480.9,230.4 471.2,279.3 507,235.6 473.9,280.8 493.3,232.7 485.8,237.3 479.3,240.3 509.2,244.1 477.9,282.3 487.5,231.3 519.8,282.6 474.6,244.6 504.7,280.6 498.5,291.7 486.2,288.6 522.7,260.3 510.6,281.9 515.9,278.3 487.5,290.1 510.1,285.3 513.9,244.7 526.7,270.8 512.6,240.2 472.2,261.8 474.3,242.8 474.5,236.2 519.4,231.2 473,256 516.7,281.2 479.1,282.5 512.4,247.6 468.9,273 515.3,269.5 474.4,256 466.1,260.9 499.5,288.4 470.8,282.7 475.4,244.1 511.2,284.7 489.3,287.1 512.3,244.3 500.3,286.2 472.3,260.9 520.2,273.1 489.9,292.7 467.4,249.5 496.2,239.5 513.5,270.7 507.8,296.8 520.6,250.7 475.7,241 496.9,290.4 516.5,267.7 491.5,233.6 473.2,258.3 467.2,240.1 525.3,262.7 508.8,246.2 480.3,241.8 504.6,234.9 486.3,238.8 498.9,290.2 492.9,299.5 478.8,243.8 502,241.8 477.2,288.5 483.5,292.9 507.9,244 494.2,291.7 479,246 489.2,289.2 517.6,262.6 515.5,275.2 518,270.2 508.6,247.8 467.6,268.6 507,241 480.8,241.8 470.2,242.2 505.4,284.4 480.3,245.1 521.1,259.5 471.3,265.8 473.6,258.7 474.6,267.1 473.5,250.5 521.1,264.2 474.1,249.4 510.3,249.6 518.1,245.9 495.2,230.7 495.8,295.7 474.3,271.1 501.1,241.6 535,258.2 483.8,291.5 488.7,234.8 509.5,278.7 501.4,292.9 502.8,280.7 517.2,264.7 517.9,256 470.6,271.5 472.2,245.8 513.9,246.7 506.2,234.5 475.7,266.2 497.6,289.8 515.7,279 502.9,280.3 474.6,269.1 479.3,246.1 474.8,249.1 471.8,273.6 516.5,265.2 472.5,259.8 475.8,265.6 478.2,281.2 519.4,259.8 513.1,249.5 474.9,274.5 519.8,255.3 523.1,254.5 528.5,257.9 492.6,290.2 488.6,235.8 506.6,279.8 489.8,290.8 493.2,233.6 478.5,236.5 521.2,266.9 517.5,259.7 519.2,266.1 511.4,250.2 521.4,294.8 477.6,248.5 511.6,260.8 513.7,263.5 482.8,233.6 510.5,251.5 523.4,275.9 502.8,243.4 507.5,279.3 480.2,285.1 508.3,246.4 476.5,287.5 511.5,279.6 491.9,233.4 483,291.2 503.6,286.5 504.6,243.3 508.1,268.5 478.3,281 492,293 472.4,260.1 487.1,238.6 506.8,245.7 472.5,262.2 472.4,252.3 477.9,250.8 506.2,286.3 509.6,266.4 511.4,271.8 497.5,240.1 513.2,253.7 490,238.9 530,264.4 475.5,260.3 507,251.6 482.1,284.6 472.7,262 470.7,271.1 516.3,259.2 474.2,238.2 519.9,239.5 495.8,242.3 508,267.2 499.4,240.2 479.8,246.4 479.5,247 518.2,251.6 504.6,277 503.4,284 504.2,246.5 517.9,275.1 512.3,270.9 501.2,245.1 512.1,258.4 512.9,279.1 483,242.8 489.5,289.6 509.8,271.7 515.8,262 485.8,286.1 512.6,267.7 476.8,245.8 487.3,245.2 510.7,278.6 498.2,246.9 516.5,267.2 487.8,240.1 474.9,251.3 476,239.1 504.2,237.7 515,256.5 499.8,240 526.1,245.7 502.5,279.6 507.5,269.8 479.7,285.3 494.5,236.6 504.6,275.9 510,275.7 489.8,240.8 488.6,243.5 510,261.9 490.2,284.2 475.7,272.6 483.8,284.7 480.2,248.2 477.5,251.9 515.2,275.8 483.2,245 484.7,279 482.8,248.1 505.4,248.8 494,239.4 500.6,280.7 508.5,258.2 505.1,275.3 482.6,277.3 498.6,242.7 506.6,257.6 474,257.7 481.2,269.4 494.3,239.9 494.5,283.2 515.9,263.4 480.6,253.1 506.2,274.2 505.8,272.6 493.1,288.5 495.4,284.8 517.8,260.4 515.2,252.2 497.6,233.7 483.7,238.8 478.6,248.8 509.1,278 505.6,257.2 473.7,251.4 491.1,282.9 481.1,255.9 503.9,271.6 476.7,272.5 486.3,278.2 491.4,243 474.7,257 481.2,279.5 471.2,275.8 475.6,267.9 509.4,261.1 479.2,275.7 486.5,240.9 507.6,239.8 479.9,262 519.4,251.4 503.9,276.8 507.2,265.8 508.2,254.1 474.9,254.2 481.9,251.9 505.7,262.2 483,292.5 507.9,252.7 490.5,288.2 493.3,284.9 475.2,264 510.5,266 496.4,278.7 482.9,290.9 513.6,262.9 513.9,258.9 511.8,257 510.6,263.3 490.4,282.7 484.3,277 483,281.7 488.3,284.2 484.6,283.3 493.4,244 481.1,262.3 482.4,260.2 479.5,273.4 476.5,252.6 476.9,259.4 479.8,258.4 489.8,279.5 503,234.9 504.3,255.4 470.8,268.8 477,269.8 500.1,277.5 503.6,277.2 481,268.8 483.4,265.9 478,278.3 502.7,248.7 475.5,255.5 483.7,263 489.6,254.6 473.8,279.1 480.1,266.4 504.5,268.5 481.4,268.6 499.3,291 488.6,274.9 482.7,254.2 507.9,259.6 489.7,276 475.7,264.6 487.8,278 482.8,282.6 478,247 484.8,241.8 487.7,242.1 482,249 526.6,249.1 478.1,252.4 499.7,275.1 494.5,250.1 478.4,265.5 477.7,254.6 512.1,276.7 493.2,287.4 490.6,278.2 481.8,240.5 484.7,274 490.1,278.9 492.3,238.3 496.8,288.5 486,272.6 522.1,252.8 477.5,263.9 502.8,246.1 492.6,245.7 484.5,271.9 500.8,268.3 501,247.3 478.5,255.8 475.9,271.1 475.7,262.5 485,254.7 487.4,246.5 497.7,263.5 507.2,247.9 488.4,252.5 500.7,242.2 504.3,252.9 491.2,249.8 501.1,247.4 481.3,274.9 504.3,266.3 487.5,257.2 522.2,265.2 498.8,258.4 475.2,268.7 503.4,250.3 501.7,259.7 500.9,247.8 498.5,286.2 480.3,249.9 511.4,276.7 506.5,260.2 525.7,245.9 508.6,278.1 503.7,274.5 475.5,239.3 501.4,275.6 489.6,272.3 492.6,282.2 486.5,281.2 473.1,262.8 498.6,267.6 510.5,271.2 501.2,272.1 503.7,275.6 473.3,252.2 512.7,280.1 476.8,262.8 503.3,257.7 493.9,252.9 481.3,272 487.2,240.8 503.9,271.4 499.3,265.9 496.9,250.9 497.2,257.3 499.1,260.7 489,266.5 491,294.6 511.9,264.5 503.4,274.9 486.5,259.4 512.3,264.2 494.2,280.7 494.4,247.9 484.4,274.2 492.8,266.5 482,284.2 475.4,276.2 486.8,252.1 485.2,268.7 473.3,262.3 491.1,270.4 502.9,256.7 486.9,271.2 496.2,258.5 500.6,248.5 497.4,273.1 485.4,263.4 490.1,278.2 503.4,270.2 489.9,274.9 476.8,271.6 495,266.7 490.3,248.4 494.5,266 488.1,263.3 500.7,284.8 498.1,269.9 494.7,242.3 497.1,244.9 524.1,287.1 494,246.2 494.9,265.7 495.7,277.3 519.2,255.1 498.6,255.5 488.3,258.4 495.4,262.1 503.5,264.2 474.7,257 491.4,235.9 505.3,261.8 487.8,279.5 486.6,247.4 494.2,261.6 493.7,275.5 489.5,244.8 490,251.3 496.9,264.4 483.6,260.2 498.7,282.2 491.2,261.6 494.6,286.6 500.4,276.5 497.5,246.5 495.9,250.7 502.7,272.2 491.9,270.5 511.7,254.6 501.6,265.9 483.8,262.4 486.9,265.6 494,276.4 500.3,249.5 516.5,282.2 479.8,266.9 487.4,278.5 491.1,266 493.7,263.9 485.7,265.8 482.8,261.5 490.5,255.9 496.1,246.9 501.4,263.2 486,250.4 517.3,246.4 494.5,253.7 498.1,278 496.9,271.3 500.6,253.9 505.4,251 485.8,268.2 481,266.7 485.2,255.7 501.5,251.8 486.9,268.4 492.6,274.5 478.7,281.7 487.2,271 493.7,259 494.1,272 484.1,251.5 487.4,259.2 495.3,269.1 499.4,253 474.9,279.1 490.2,258.4 494.8,269.7 495.9,259.1 489.3,251.1 491.2,275.8 494,257 509.5,264.7 498,266.5 486.3,281.2 491.6,264.7 495.4,264.9 483.8,263 490.5,265.9 508.9,275.6 484.2,248.1 483.9,265.9 486.7,251.3 482.4,257.4 509,272.6 496.4,254.2"/>
<path class="s" d="M457.2,219.1V312.8H543.3"/>
<path class="t" d="M461.60,312.80v2.40M492.31,312.80v2.40M523.02,312.80v2.40M457.24,310.01h-2.40M457.24,290.61h-2.40M457.24,271.21h-2.40M457.24,251.81h-2.40M457.24,232.41h-2.40"/>
<polyline class="p" points="76.1,339.1 76.1,340 76.1,341.2 76.1,336 76.1,401.4 76.1,336.9 76.1,348.3 76.1,333.4 76.1,331.5 76.1,338.8 76.1,336.3 76.1,334.2 76.1,342.7 76.1,345.1 76.1,341.3 76.1,343.4 76.1,404.2 76.1,344 76.1,401.2 76.1,398.4 76.1,353.6 76.1,400.3 76.1,349.9 76.1,350.8 76.1,342 76.1,337.6 76.1,338.4 76.1,346.5 76.1,346.9 76.1,352.9 76.1,345.3 76.1,345.7 76.1,403.5 76.1,358.1 76.1,397.8 76.1,397.4 76.1,355.8 76.1,402.4 76.1,349.2 76.1,397 76.1,355.5 76.1,358.5 76.1,399.2 76.1,359.4 76.1,402.8 76.1,347.6 76.1,405.2 76.1,412.6 76.1,375.2 76.1,360.6 76.1,350.9 76.1,353.3 76.1,360.5 76.1,357.3 76.1,348.8 76.1,393.1 76.1,355.1 76.1,395.2 76.1,361.6 76.1,359.5 76.1,399.8 76.1,392.6 76.1,370 76.1,394.6 76.1,354.4 76.1,362.2 76.1,351.6 76.1,347.6 76.1,393.7 76.1,364.9 76.1,375.1 76.1,395.9 76.1,371 76.1,373 76.1,377.9 76.1,366.3 76.1,380.2 76.1,385.6 76.1,399.9 76.1,372.5 76.1,352.2 76.1,359.6 76.1,362.2 76.1,392.5 76.1,364.4 76.1,363.2 76.1,395.6 76.1,356.6 76.1,365.9 76.1,374.4 76.1,363.5 76.1,371.3 76.1,386.6 76.1,396.8 76.1,367.5 76.1,394.3 76.1,389.7 76.1,374.8 76.1,392.2 76.1,349.1 76.1,388.1 76.1,365.6 76.1,368.8 76.1,371.9 76.1,370 76.1,381.7 76.1,374.9 76.1,373.7 76.1,367 76.1,371.8 76.1,368.1 76.1,384.1 76.1,379.5 76.1,391.4 76.1,384.3 76.1,373.5 76.1,382.7 76.1,388.9 76.1,390.5 76.1,362.4 76.1,363.7 76.1,360.3 76.1,381.2 76.1,387.4 76.1,384.6 76.1,390.5 76.1,385.4 76.1,369.4 76.1,387 76.1,376.2 76.1,405.5 76.1,381.2 76.1,378.9 76.1,383.1 76.1,377.8 76.1,377.4 76.1,377.1"/>
<path class="s" d="M33.1,325.3V419H119.2"/>
<path class="t" d="M51.17,418.95v2.40M76.14,418.95v2.40M101.12,418.95v2.40M33.12,411.78h-2.40M33.12,394.69h-2.40M33.12,377.61h-2.40M33.12,360.53h-2.40M33.12,343.44h-2.40M33.12,326.36h-2.40"/>
<text x="28.22" y="414.98" text-anchor="end">60</text>
<text x="28.22" y="397.89" text-anchor="end">80</text>
<text x="28.22" y="380.81" text-anchor="end">100</text>
<text x="28.22" y="363.73" text-anchor="end">120</text>
<text x="28.22" y="346.64" text-anchor="end">140</text>
<text x="28.22" y="329.56" text-anchor="end">160</text>
<text transform="translate(13.57,374.00) rotate(-90)" text-anchor="middle">pressure</text>
<polyline class="p" points="158.2,353.8 210.1,387.4 208.9,399.5 175.8,339.1 206.3,371.6 176.7,338.4 153.9,375.4 201.1,344.3 152.5,364.8 208.5,381.5 168.8,342.1 156.9,354.6 189.6,403.5 175.8,343.6 194.7,348.1 206.4,365.8 191.8,399.8 174.7,338.3 154.6,386.5 190.3,400.8 159.3,353.6 164.2,349.4 173.1,340 197,393.6 194.6,352 150,375.5 200.1,360.6 196.8,357.5 198,395.6 153,357.5 196.4,352.3 170.8,341.2 204.6,384.5 156.1,367.6 200.5,357.9 195,355.4 207.2,376.8 181.5,342.4 204.3,394.3 207.4,366.8 163.4,397.3 159.2,394.9 150.5,395.5 204.6,397.6 196.9,398.8 154.6,369.5 197.8,401.1 167,401.3 184,342.8 204.3,364.4 148.7,377.7 162,395.6 196.2,396.6 208.6,371 178.6,343.3 161.3,355 162.6,356.6 157.8,357.9 184.2,344.6 196.4,357.2 162.8,354 177.9,401.9 181.3,403.9 173,350.4 188,404.4 172.7,347.2 165.4,399.4 170.2,348.2 197.3,368.9 152.4,377.9 163.1,356.4 171.6,338.7 171,350.1 201.9,367.9 174.5,345.9 193.2,395.2 192.9,402.8 181.6,338.8 163.6,400.4 155.5,369.1 204.3,370.3 199.2,394.1 159.9,361.2 154.7,384.2 158.6,359.9 206.5,367.7 190.1,348.5 195.5,345.1 179.4,342.8 164.2,336 197.6,390.8 151.4,362.4 184.6,345.4 204.9,370.9 182.6,403.3 150.6,387.8 185.9,397.2 179.8,346.4 163.4,359.7 180.3,402 173.5,343 199.9,392.1 186.9,347.2 160.2,391.5 203.6,366.4 173.4,401.4 153.1,371.9 198.5,390 197.1,370.7 186.9,349.4 190.6,352.8 153.9,380.4 185.5,403.2 155.5,358.7 206.2,386.1 200.3,359.4 203.2,377.9 163.3,346.9 203.1,392.5 179.4,336.9 192.1,397.5 175.8,334.2 155.3,390.3 190.3,356.1 202.8,371.5 181.6,345.7 172.8,400.1 161.9,348.3 147.2,381 170.2,347.2 190.3,352.5 158.4,333.4 173.2,331.5 162.2,389.9 179.4,338.8 196.8,363.2 170.1,346.9 195.6,356 157.8,361.5 158.5,376.7 162.9,351.2 155.4,373.8 175.5,336.3 170.6,355 200.3,371.3 181.9,334.2 185.3,396.8 168.8,356.5 160.2,395.2 198.5,388.7 169,344.5 181,400.1 195.6,369.4 194,391.8 193.1,392.4 154.1,371.5 173.4,352.4 160.2,358 167,356.6 208.1,381.8 154.9,381.2 192.3,396.2 199.8,365.5 156.3,373.6 163.5,399.6 195.5,361.9 158.3,399.8 169.8,403.5 174.8,344.3 194.4,359 169.2,342.7 162.7,384.6 185.7,352.2 176.4,401 189,395.5 162.8,393.9 165,345.1 160.7,363.3 202,387.5 208.6,376.3 193.5,341.3 171.6,343.4 159.6,357.7 174.2,404.2 200.5,365 158.4,379.7 189.4,349 157.9,386.8 158.5,364.4 157.8,380.5 205.1,372.5 187.2,354 165.3,384.6 165.7,385.7 176.2,344 202.3,350.2 184.8,399.6 197,381.3 197.9,360.5 149.3,357.7 153.9,379.2 191,357.1 183.5,352.9 188,401.2 159.2,374.9 170.3,338.4 163.7,394.7 154.8,399.6 156.4,370.2 194.1,393.7 172.3,355.4 202.4,397.4 163,395.2 166.4,347.3 174.2,355.3 189.6,362.1 204.7,375.2 182.9,350 216.7,381.3 162,389.5 183.7,398.4 162.2,357.6 189,357.2 156.2,393.4 160.7,395.2 168.7,399.6 198.3,380.5 154.2,397.2 153.9,372.6 193.2,353.6 154.7,363.7 162.6,369 166.1,393.3 192.5,360.3 193.1,366.7 177.9,346 174.3,356.3 192.2,390.8 201.4,366.3 194.7,366.7 191.7,400.2 200.9,379.3 163,400.3 195.3,380.9 189.6,364.2 191.5,360.9 156.3,383.8 171.4,350.8 171.5,357.2 168.2,357.5 208.2,383 164.6,353.2 182.5,348.8 171.9,342 154.6,377.5 160,366.7 163.8,395.1 150.9,373.3 165,387.3 174.5,399.5 157.5,360 175.2,351.8 157.8,381.4 201.2,374.5 208.1,386.1 203.4,381.5 179.9,337.6 153.3,392.5 194.4,365.8 159.6,377.3 188.5,338.4 167.2,399.5 184.8,396.8 184.6,396.6 181,346.5 189.5,396.5 187.2,389.9 177.1,393.8 159.7,373.7 162.6,368.1 168.3,358.2 156.1,360.9 191.1,392.9 199.6,376.4 184.4,346.9 158.3,386.4 196.1,365.7 205.9,371.8 199.1,380.4 160.2,385 196.6,365.5 155.9,396 166.7,361.4 161.7,366.9 159,382.9 186.2,357.3 160.9,375.7 165.6,394.7 179.6,352.9 167.6,345.3 165.8,354.9 161.6,382.5 183.7,345.7 190.9,369.9 183.6,357.3 194.4,380.2 199.4,387.8 200.7,381.9 181.1,355.2 164,383.1 182.1,357.2 206.2,403.5 169.6,363.2 165.5,358.1 201.4,384.3 179.5,397.7 172.4,396.1 194.3,384.6 160.4,374 182.4,397.8 179.5,355.3 190.7,359.7 160.2,371.8 168.8,397.3 198.2,397.4 198.7,371 182.2,399.3 168.5,370.3 205.6,366.3 166,355.8 157.8,390.9 166.2,384.7 189.5,364 179.1,402.4 165.8,390.7 167,392.3 189.4,369.3 189.5,368.9 165.3,368.4 196.1,388.1 201.2,365.2 194.8,370.8 167.7,396.7 171.7,399.7 186.8,363.1 166.7,383.1 197.6,373.3 194.3,373.9 176.2,349.2 189.1,369.1 197.1,373.9 202.7,384.7 170.4,360 172.4,359.7 188.9,393 167.4,385.7 194.3,369.3 197.7,386.3 175,357.1 164.8,381.4 163.4,388 156.9,366.4 166.6,391.6 169.2,389.1 188.1,391.5 172.5,356.7 187.4,358.7 181.2,393.5 166.5,370.5 186.7,389.8 176.2,397 162.2,373.8 163.2,395.4 160.4,381.9 160.5,378.7 166.2,381.2 181.7,391.4 181,355.5 203.7,365.7 170.7,370.1 179,358.5 163.8,378.2 168.5,369 164.9,399.2 178.5,359.4 179.3,351.4 149.6,372 182.8,394.1 159,362.6 188.6,367.9 187.1,360.2 177.1,359.4 187.8,402.8 193.7,372.4 182,391.6 192.2,382.9 192,387.2 175.6,347.6 191.6,388.3 194.6,369.5 160.1,374.7 189.2,380.3 162.8,405.2 183.7,391.4 165.6,352.1 169.8,412.6 189.7,386.2 205.1,377.5 185.2,369 162.1,382 187.3,377.8 184.3,365.6 163,371.9 192.5,379.2 185.4,374.7 162.9,390.3 164.9,360.6 176.7,362 167,350.9 181,360.5 160.3,379.2 160.1,389.8 189.9,378.9 156.5,353.3 165.6,388.3 186.1,392.1 175.5,360.5 184.1,355 166.5,370.2 192.5,357.3 167.7,368.4 178.8,388.8 176.5,354.9 189.2,366.4 198,348.8 175,393.1 182.7,355.1 173.7,387.2 182.5,389.4 192.6,395.2 196,385 175.1,361.6 177.1,359.5 162.2,381.6 189.6,399.8 190.1,392.6 176.8,389.5 163.6,382.2 169,368.1 176.8,370 183.3,374.8 155.8,388.7 183.5,394.6 185.9,354.4 190.1,396.5 181.3,374.4 190,385.4 190.8,379.1 170.8,362.2 170.1,373.7 172.6,363.1 159.6,390 171.4,368.7 165.4,367.2 170.8,378.2 179.3,351.6 171.7,371 177.3,359.9 186.8,367 199.7,383 182.8,381.3 168.1,384.6 183.8,390.2 175.8,384 182,387.4 187.8,372.7 166.8,374.7 195.7,372.6 192.6,376.6 180.6,372.1 172.9,392.5 165.5,368.3 165.4,378.1 176.6,365.4 191.6,347.6 175.9,371.1 173.6,371.1 174,371.3 172.3,369.2 169.8,385.8 154.7,379.7 177.9,396.3 176.6,367.1 170.9,375 158.1,380.6 170.3,387.2 185.7,393.7 168.8,363.6 181.2,372.4 178.6,386.8 198.9,386.4 170.2,364.9 166.8,377.1 170.4,389.5 162.3,362.3 178.1,368.1 169.2,395.9 173.9,371 166.5,372.7 167,373.3 169.3,391.4 163.8,373.7 179.5,380.9 182.8,371.3 169.6,379.8 169.8,365.7 177.7,373 187.7,386.8 162.9,373.9 185.8,377.9 164.3,366.3 163.2,380.2 199.6,389.5 184.2,385.6 178.4,399.9 178.5,386.7 180.4,365.8 190.1,392.4 166.3,373.5 176.5,384.8 175.8,372.5 166.1,376.6 166.6,381.2 168.8,352.2 175.2,389.7 182.8,359.6 192,362.2 187,392.5 181.3,377.4 187.3,364.4 168.7,381.8 180.2,363.2 184.3,368.8 161.7,374.6 183,395.6 148.6,386.5 182.9,388.7 173.4,356.6 206.1,379 172.6,365.9 171.6,374.4 171.4,379.4 181.4,384.1 165.1,363.5 185.1,379.1 174.8,373.5 183.8,377.1 169.9,385.5 185.6,371.3 179.7,386.6 183,376.3 175.3,387.6 172.3,396.8 170.1,367.5 158,369.3 182.7,376.8 169.6,394.3 170.8,389.7 178.3,374.8 173.6,392.2 177.7,349.1 170.5,388.1 172.8,382.8 188.3,365.6 180.9,368.8 182,371.9 192.6,370 178,368.1 189.9,376.2 169.5,381.7 176.6,379.1 164.6,374.9 178.3,373.7 185,367 154.8,371.8 175.4,368.1 177.7,381.2 179.2,384 176.4,384.1 175.1,379.5 177.9,391.4 176.5,384.3 191,373.5 188,382.7 183.7,388.9 182.9,390.5 170.7,387.1 171.8,387.1 184,362.4 167.4,363.7 183.7,360.3 183.9,381.2 192.3,387.4 185.4,384.6 171.4,390.5 172,377.1 159.6,385.4 175.3,369.4 185,387 180.4,376.2 173.6,405.5 191.7,381.2 178.6,378.9 174.5,377.6 170.9,383.1 180.2,377.8 196.2,377.4 179.2,377.1"/>
<path class="s" d="M139.2,325.3V419H225.2"/>
<path class="t" d="M165.52,418.95v2.40M194.49,418.95v2.40M223.46,418.95v2.40M139.15,411.78h-2.40M139.15,394.69h-2.40M139.15,377.61h-2.40M139.15,360.53h-2.40M139.15,343.44h-2.40M139.15,326.36h-2.40"/>
<polyline class="p" points="310.7,395.1 281.9,339.1 268.4,368.7 316.1,375.8 301.1,346.7 297.2,338.4 263.2,381.7 253.7,381.5 309,398.6 311.9,387.1 316,371.2 304.5,399.1 309.8,355.6 263.8,376.1 268.8,388.4 265.6,392.4 295.5,402.5 292.4,342.1 292.1,343.6 313.6,389.4 268.5,397 273.8,399.8 271.2,393.3 313,382.2 296.4,401.6 310.2,364.5 297.2,338.3 264,363.1 322.1,400.8 296.6,340 313.7,390.1 306.9,358.7 269,370 312.6,366.7 286.5,347.6 303.8,402.4 278.1,352.3 284.6,346.5 287.3,349.6 264.5,341.2 260.7,380.1 265.3,373.2 309.6,366.5 310.5,359.3 295.5,342.4 312.2,371.2 265,372 268.1,390.8 317.3,386.8 276.6,398.8 315.4,376 273.5,397 300.2,345 308.4,400.3 311.6,378.8 297.7,342.8 299.8,349.3 282.3,347.4 316.6,377.7 276.6,361.6 266.6,390.8 283.1,343.3 276.9,344.4 282.3,344.6 276.8,344 302.8,402.7 310.1,401.9 282.4,403.9 312.6,372.7 316.6,350.4 273,356.7 276.1,358 289.4,404.4 303.4,351.8 279.5,354.6 284.9,345.9 269.3,368.9 307.2,393.6 276.4,338.7 310.5,350.1 310.5,386 279.3,338.8 276.5,352.4 265.7,377.7 262.4,372 309.4,388.1 288.9,345.1 308.5,342.8 285.5,336 314.7,375.1 268.7,366.3 309.2,362.4 282.4,345.4 298.9,351.4 307.4,355.1 292.7,403.3 313.6,368.8 286.9,346.4 260.1,375.7 302.2,402 276,354.4 287.7,343 285.2,401.2 265.6,366 266.6,378.4 286.9,401.4 306.8,362.9 287.5,351.4 304.4,359.7 278.6,356.7 280.3,349.4 308.5,366.3 276.4,391.5 271.4,362.2 283.5,351.1 300.7,346.9 288.1,350.3 301.6,336.9 296.4,334.2 317.1,381.9 263.2,363.8 278.5,400.1 313.7,367.7 307,348.3 272.5,389.3 298,347.2 265.6,384.7 283.6,352.5 313.9,374.1 289.6,333.4 300.4,331.5 268.1,379 277.1,355.9 305.4,338.8 291.8,346.9 314.5,373.9 274.4,390.5 281.9,351.2 298.2,336.3 298,355 309.8,374.4 273.6,354 309.8,386.5 273.1,387.5 282.5,334.2 292.4,344.5 303.6,400.1 301.4,352.4 267.8,383.6 276.5,358.1 267.3,380.2 305,356.6 314.6,390.3 312.3,375.8 284.9,353.3 264,388.5 314.6,378.6 294.4,403.5 299.2,344.3 278.3,390.1 306.6,385.2 272,367.6 310,384.4 297,342.7 270.1,371.3 285.7,401 296.2,345.1 311.8,367.4 309.1,391.2 314.8,375.5 295.7,341.3 267,386 297.5,343.4 270.9,363.8 289.3,404.2 276.7,363.5 281.5,349 265.5,370.4 294.8,354 302.9,363.2 275.5,372.7 304.3,359.5 287.4,344 309.3,369.4 281.9,360.8 299.6,352 301.2,401.2 285.3,338.4 272.4,369.5 274.2,356.9 286.1,399.6 303.2,373.9 275.7,350.3 281.2,355.4 277.9,397.4 281.6,395.2 310.8,382.5 276.8,366.7 309.8,355.3 282,362.1 307.5,375.2 309.2,389.2 284.2,362.3 304.1,398.4 279.5,393.7 289.9,357.2 272.9,376.8 304,359.1 284.6,393.4 285.7,395.2 280.3,399.6 305.2,365 279.3,395.3 274.9,397.2 307.1,388.7 268.3,376.3 284.9,353.6 280.9,363.7 271.2,394.4 304.5,357.9 292.7,346 304,356.3 309.3,390.8 310.1,368.6 311.3,378.3 309.4,376.2 278.9,390.1 291.9,400.2 303.3,375.2 295.2,400.3 292,349.9 299.7,394.5 284.7,360.9 271.9,387.4 312.2,383.8 290.6,350.8 296.9,357.2 278.8,364.2 290.5,353.2 297.3,348.8 301.8,342 273.4,362.2 306.7,388.7 308.7,370.3 306.5,382.4 291.3,357.6 281.8,391.9 272.7,373.3 272.4,387.3 302.5,363.5 305.3,379.5 309.9,377.1 304.7,395.6 295.5,351.8 286.8,356.4 292.1,337.6 300.3,392.5 289.5,358.2 307.1,359.7 303.5,365.8 291,338.4 282.1,399.5 293.7,396.8 293.3,396.6 280.2,346.5 284,396.5 306.3,389.8 309.4,383.3 301.2,364.4 286.3,395.1 273.6,392.9 274.2,376.4 304,346.9 277.2,371.6 286.3,358.7 297.4,395.7 285,391.9 269.2,369.9 302,365.5 272.3,368.7 273.8,369.1 294.7,396 274.4,366.9 314.6,363.2 310.3,382.9 292.2,357.3 294.6,394.7 289,352.9 305.5,384.5 274.3,386.7 295.2,345.3 305.2,385.6 273.9,354.9 305.1,345.7 306,391.9 282.5,357.3 306.9,387.8 294.5,355.2 276.7,387.8 304.5,358.8 305.6,368.1 282.7,357.2 286.3,403.5 291.6,358.1 300.6,397.7 279.8,396.1 308.6,374.9 298.1,397.8 281.5,355.3 309.5,373.1 295.9,358.7 304,397.4 304.3,371 283,399.3 280.7,366.3 299.6,355.8 300.9,364.2 279.3,364 265.9,374.5 298.9,402.4 269.4,375.8 280.2,389.7 272.2,383.6 277.3,373.3 300,399.7 267.3,363.1 297.4,349.2 290.1,359.7 287.5,364.8 291,393 296,394.4 274,362.9 278.8,357.1 303.7,388 282.2,366.4 293.4,391.6 274.8,374.3 272.8,391.5 283.9,356.7 306.1,393.5 298.9,389.8 287.5,397 276.6,373.8 313.6,368.2 296.6,395.4 300.3,355.5 301.5,361.1 299.6,358.5 285.6,365 304.9,383.1 278.8,399.2 287.9,359.4 296.6,351.4 290.4,394.1 297.3,362.6 277,367.9 267.2,375 285.9,367.9 287.1,359.4 291,402.8 278.6,372.4 283.7,391.6 302,382.9 295.2,387.2 277.9,347.6 297.7,388.3 274.1,380.4 303.6,405.2 304.7,391.4 307.9,352.1 307.6,412.6 301.9,385.8 301.8,380.9 299.1,386.2 297.3,382 279,377.8 270.1,386.1 308.9,379.2 281.2,390.3 277.1,360.6 284,378.7 310.8,362 287.9,350.9 269.3,385.2 300.1,360.5 298.8,371.4 304.3,371.8 283.9,378.9 285.8,380.2 304.6,381.8 292.9,353.3 285.9,392.1 287.6,360.5 303.3,355 278.1,376.8 291.3,370.2 296.1,357.3 296.3,368.4 283.6,354.9 296.1,348.8 302.1,355.1 297.2,389.4 290.4,395.2 304,386 289.9,361.6 302.8,359.5 297.3,381.6 290.9,399.8 299,392.6 307.5,364.3 283.7,389.5 298.7,379.1 293.2,368.1 303.2,379.7 280.4,388.6 287.6,370 288.5,394.6 294.2,354.4 283.2,396.5 285.6,374.4 300.9,385.4 293.1,385.4 302.9,379.1 271.2,362.2 304.5,390 277.9,368.7 289.4,367.2 280.8,351.6 309.9,371 279.9,359.9 282.7,367 274.5,383 294.8,381.3 290.8,390.2 290.5,384 284.8,387.4 293.4,374.9 283.6,374.7 302.3,372.1 294.8,392.5 276.2,377.6 294.7,368.3 298.7,378.1 282.9,365.4 308.7,347.6 287.1,371.1 283.4,371.1 300.4,369.2 295,390.4 288.4,396.3 292.9,375 264.2,380.6 302.2,393.7 280.5,363.6 293.3,372.4 289.3,364.9 275.7,380.6 302.8,374.2 281,377.1 287.4,368.1 272.7,395.9 279.4,371 292,382.4 291.5,372.7 299.4,373.3 296.1,391.4 285.6,373.7 290.9,380.9 295.6,371.3 294.1,365.7 293.7,373 302.3,389.4 282,376.2 290,386.8 277.8,373.9 298.6,377.9 284.4,380.2 280.5,389.5 283.2,382.4 287.3,385.6 287.2,399.9 302.4,386.7 287.8,365.8 290.1,392.4 272.3,373.5 284.6,384.8 307.5,372.5 305.3,376.6 270.4,381.2 304.2,352.2 278.5,384.9 295.3,359.6 296.9,362.2 296.6,392.5 294.1,377.4 291.1,364.4 289.3,381.8 295.3,363.2 312.7,368.8 291.3,374.6 276.7,395.6 303.2,386.5 291.5,388.7 280,356.6 305.4,379 300,365.9 289.2,374.4 292.6,379.4 274.4,384.1 291.5,363.5 270.8,379.1 279.2,373.5 304,377.1 300.5,385.5 282.7,371.3 284.2,386.6 297.2,376.3 287.9,387.6 290.8,396.8 288.2,367.5 279.2,369.3 301.5,376.8 274.4,394.3 287.1,389.7 277.5,374.8 287.9,392.2 289.6,349.1 288,388.1 291.6,382.8 296.2,365.6 303.6,368.8 290.2,371.9 300.8,370 304.1,368.1 298,376.2 277.9,381.7 283.5,379.1 297.8,374.9 300.3,373.7 286.1,367 287.3,371.8 296.4,368.1 299.6,381.2 285.9,384 280.8,384.1 274.8,379.5 283.7,391.4 293.6,384.3 282.9,373.5 299.9,382.7 293.5,388.9 285.3,390.5 298.6,387.1 277,387.1 294.1,362.4 284.8,363.7 293.5,360.3 300.2,381.2 279.7,387.4 295.3,384.6 288.9,390.5 287.4,377.1 275.3,385.4 288.9,369.4 288.7,387 290.3,376.2 287.9,405.5 279.9,381.2 302.6,378.9 287.9,377.6 300,383.1 295,377.8 282.4,377.4 297.6,377.1"/>
<path class="s" d="M245.2,325.3V419H331.2"/>
<path class="t" d="M251.43,418.95v2.40M283.54,418.95v2.40M315.65,418.95v2.40M245.18,411.78h-2.40M245.18,394.69h-2.40M245.18,377.61h-2.40M245.18,360.53h-2.40M245.18,343.44h-2.40M245.18,326.36h-2.40"/>
<path d="M354.1,419 L354.1,418.9 354.5,418.9 354.9,418.9 355.3,418.9 355.7,418.9 356.1,418.9 356.5,418.9 356.9,418.9 357.3,418.8 357.7,418.8 358.2,418.8 358.6,418.8 359,418.8 359.4,418.7 359.8,418.7 360.2,418.6 360.6,418.6 361,418.5 361.4,418.4 361.8,418.4 362.2,418.3 362.6,418.2 363,418 363.4,417.9 363.8,417.8 364.2,417.6 364.6,417.4 365,417.2 365.4,416.9 365.8,416.7 366.2,416.4 366.6,416 367,415.6 367.4,415.2 367.8,414.8 368.2,414.3 368.6,413.7 369,413.1 369.4,412.4 369.8,411.7 370.2,410.9 370.6,410.1 371,409.1 371.4,408.1 371.8,407.1 372.2,405.9 372.6,404.7 373,403.4 373.4,402 373.8,400.5 374.2,398.9 374.6,397.3 375,395.5 375.4,393.7 375.8,391.8 376.2,389.8 376.6,387.7 377,385.6 377.4,383.4 377.8,381.1 378.2,378.7 378.6,376.4 379,373.9 379.4,371.5 379.8,369 380.2,366.4 380.6,363.9 381,361.4 381.4,358.9 381.8,356.4 382.2,354 382.6,351.6 383,349.3 383.4,347.1 383.8,344.9 384.3,342.9 384.7,340.9 385.1,339.1 385.5,337.4 385.9,335.9 386.3,334.5 386.7,333.3 387.1,332.2 387.5,331.3 387.9,330.7 388.3,330.1 388.7,329.8 389.1,329.7 389.5,329.8 389.9,330 390.3,330.5 390.7,331.1 391.1,332 391.5,333 391.9,334.1 392.3,335.5 392.7,337 393.1,338.6 393.5,340.4 393.9,342.3 394.3,344.3 394.7,346.4 395.1,348.6 395.5,350.9 395.9,353.2 396.3,355.6 396.7,358 397.1,360.5 397.5,362.9 397.9,365.4 398.3,367.9 398.7,370.3 399.1,372.7 399.5,375.1 399.9,377.4 400.3,379.6 400.7,381.8 401.1,383.9 401.5,386 401.9,388 402.3,389.8 402.7,391.6 403.1,393.3 403.5,394.9 403.9,396.5 404.3,397.9 404.7,399.2 405.1,400.5 405.5,401.7 405.9,402.8 406.3,403.8 406.7,404.7 407.1,405.6 407.5,406.3 407.9,407.1 408.3,407.7 408.7,408.4 409.1,408.9 409.5,409.4 409.9,409.9 410.4,410.4 410.8,410.8 411.2,411.1 411.6,411.5 412,411.8 412.4,412.2 412.8,412.5 413.2,412.7 413.6,413 414,413.3 414.4,413.5 414.8,413.8 415.2,414 415.6,414.3 416,414.5 416.4,414.8 416.8,415 417.2,415.2 417.6,415.4 418,415.7 418.4,415.9 418.8,416.1 419.2,416.3 419.6,416.5 420,416.7 420.4,416.8 420.8,417 421.2,417.2 421.6,417.3 422,417.5 422.4,417.6 422.8,417.7 423.2,417.9 423.6,418 424,418.1 424.4,418.2 424.8,418.3 425.2,418.3 425.6,418.4 426,418.5 426.4,418.5 426.8,418.6 427.2,418.6 427.6,418.7 428,418.7 428.4,418.7 428.8,418.8 429.2,418.8 429.6,418.8 430,418.8 430.4,418.9 430.8,418.9 431.2,418.9 431.6,418.9 432,418.9 432.4,418.9 432.8,418.9 433.2,418.9 433.6,418.9 434,418.9 L434,419Z" fill="#1f77b4" fill-opacity=".25"/>
<polyline points="354.1,418.9 354.5,418.9 354.9,418.9 355.3,418.9 355.7,418.9 356.1,418.9 356.5,418.9 356.9,418.9 357.3,418.8 357.7,418.8 358.2,418.8 358.6,418.8 359,418.8 359.4,418.7 359.8,418.7 360.2,418.6 360.6,418.6 361,418.5 361.4,418.4 361.8,418.4 362.2,418.3 362.6,418.2 363,418 363.4,417.9 363.8,417.8 364.2,417.6 364.6,417.4 365,417.2 365.4,416.9 365.8,416.7 366.2,416.4 366.6,416 367,415.6 367.4,415.2 367.8,414.8 368.2,414.3 368.6,413.7 369,413.1 369.4,412.4 369.8,411.7 370.2,410.9 370.6,410.1 371,409.1 371.4,408.1 371.8,407.1 372.2,405.9 372.6,404.7 373,403.4 373.4,402 373.8,400.5 374.2,398.9 374.6,397.3 375,395.5 375.4,393.7 375.8,391.8 376.2,389.8 376.6,387.7 377,385.6 377.4,383.4 377.8,381.1 378.2,378.7 378.6,376.4 379,373.9 379.4,371.5 379.8,369 380.2,366.4 380.6,363.9 381,361.4 381.4,358.9 381.8,356.4 382.2,354 382.6,351.6 383,349.3 383.4,347.1 383.8,344.9 384.3,342.9 384.7,340.9 385.1,339.1 385.5,337.4 385.9,335.9 386.3,334.5 386.7,333.3 387.1,332.2 387.5,331.3 387.9,330.7 388.3,330.1 388.7,329.8 389.1,329.7 389.5,329.8 389.9,330 390.3,330.5 390.7,331.1 391.1,332 391.5,333 391.9,334.1 392.3,335.5 392.7,337 393.1,338.6 393.5,340.4 393.9,342.3 394.3,344.3 394.7,346.4 395.1,348.6 395.5,350.9 395.9,353.2 396.3,355.6 396.7,358 397.1,360.5 397.5,362.9 397.9,365.4 398.3,367.9 398.7,370.3 399.1,372.7 399.5,375.1 399.9,377.4 400.3,379.6 400.7,381.8 401.1,383.9 401.5,386 401.9,388 402.3,389.8 402.7,391.6 403.1,393.3 403.5,394.9 403.9,396.5 404.3,397.9 404.7,399.2 405.1,400.5 405.5,401.7 405.9,402.8 406.3,403.8 406.7,404.7 407.1,405.6 407.5,406.3 407.9,407.1 408.3,407.7 408.7,408.4 409.1,408.9 409.5,409.4 409.9,409.9 410.4,410.4 410.8,410.8 411.2,411.1 411.6,411.5 412,411.8 412.4,412.2 412.8,412.5 413.2,412.7 413.6,413 414,413.3 414.4,413.5 414.8,413.8 415.2,414 415.6,414.3 416,414.5 416.4,414.8 416.8,415 417.2,415.2 417.6,415.4 418,415.7 418.4,415.9 418.8,416.1 419.2,416.3 419.6,416.5 420,416.7 420.4,416.8 420.8,417 421.2,417.2 421.6,417.3 422,417.5 422.4,417.6 422.8,417.7 423.2,417.9 423.6,418 424,418.1 424.4,418.2 424.8,418.3 425.2,418.3 425.6,418.4 426,418.5 426.4,418.5 426.8,418.6 427.2,418.6 427.6,418.7 428,418.7 428.4,418.7 428.8,418.8 429.2,418.8 429.6,418.8 430,418.8 430.4,418.9 430.8,418.9 431.2,418.9 431.6,418.9 432,418.9 432.4,418.9 432.8,418.9 433.2,418.9 433.6,418.9 434,418.9" fill="none" stroke="#1f77b4" stroke-width="1.1" stroke-linejoin="round" stroke-linecap="square"/>
<path class="s" d="M351.2,325.3V419H437.3"/>
<path class="t" d="M352.61,418.95v2.40M389.32,418.95v2.40M426.03,418.95v2.40M351.21,411.78h-2.40M351.21,394.69h-2.40M351.21,377.61h-2.40M351.21,360.53h-2.40M351.21,343.44h-2.40M351.21,326.36h-2.40"/>
<polyline class="p" points="472.4,394.2 484.8,399.5 518,364.9 475.8,339.1 471,367.6 514.7,353 523.3,371.6 509.2,362.8 486.4,346.7 490.5,344.3 529.8,370 525.2,375.4 525.8,365.3 522.7,381 473.8,389 533.2,374.6 469.2,372.6 474.6,356.3 526.1,384.2 489.3,342.1 509.2,394.7 518.7,390.3 517.2,343.6 522.6,376.6 474,394.6 467.1,389.4 500.9,398.4 507.3,348.1 512.8,364.3 476.5,391.7 478.9,401.6 473.1,359.5 498.7,399.3 486.7,338.3 527.4,371 519.6,400.8 473.4,367.6 510.6,349.4 472.5,359.9 494.4,340 484.6,349.9 527,375.5 520.5,375.8 510.4,356 524.1,377.6 506.5,394.5 505.3,397.5 491.9,402.4 509.5,346.5 481.1,400 494.2,342.4 528.3,367.1 525.9,380.6 473.3,384.9 474.3,347.8 471.2,383.6 505.4,397.8 480.3,349.7 513.4,401.1 513.5,391.3 475.3,358.9 511.4,391.9 497.3,401.3 505.2,395.9 496.6,342.8 479.9,347.4 504,399.4 519.8,381.5 487,401.2 501,345.3 479.3,343.3 522.7,372.3 514.5,367.6 489.5,344.4 499.7,397 513.9,360.6 484.5,344.6 526.7,385.8 492.3,401.9 485,398.2 515.4,358.1 479.8,352.5 472.2,373.3 472.9,390.3 488,401.9 519.4,350.4 487.5,404.4 473,368.5 473.3,368.4 482.4,347.2 483.5,396.8 509.2,399.4 468.9,379.8 505.2,356.1 515.3,370.7 504.4,354.6 466.1,379.6 470.8,380.5 504.1,356.4 483.4,338.7 478.2,359.4 498.3,345.9 472.3,369.2 482.3,402.8 520.2,370.4 497.7,338.8 508.5,400.4 513.4,372.6 478.3,394.1 467.4,389.8 477.4,350.9 520.6,363.5 495.5,345.1 475.7,342.8 516.5,393.7 502.6,336 516.1,387.5 514.3,374.8 473.2,389.9 467.2,362.4 525.3,378.2 493.2,345.4 508.8,361 480.5,355.1 501.6,403.3 477.8,392.8 499.9,346.4 488,402 474.8,391.6 500.6,343 491.6,401.2 476.2,398.8 503.5,347.2 488,401.4 515.2,351.4 514.7,362.8 517.6,369.9 473.5,362.4 515.5,349.4 518,367.3 508.6,364.2 467.6,384.3 483.1,403.2 482.4,351.1 470.2,390.8 515.6,358.7 521.1,360.1 471.3,382.7 473.6,364.7 473.5,346.9 521.1,390.3 474.1,336.9 483.6,334.2 518.1,384.2 476.9,355.3 494.3,345.7 496.9,400.1 474.3,365.2 535,391.1 492.3,348.3 490.7,347.2 517.2,382.5 517.9,373.2 470.6,376.2 472.2,384.5 513.9,384.6 510.5,359.3 508,333.4 500.9,331.5 515.7,355.9 495.8,338.8 498.4,346.9 515.6,391.6 489.6,351.2 474.6,362.4 490,336.3 474.8,362.7 502.1,356.2 482.9,355 484.9,354 471.8,371.4 472.5,360.9 483.4,334.2 505,395.2 519.4,376.4 513.1,374.4 504.7,353 474.9,373 513.5,344.5 492.1,400.1 519.8,358.9 523.1,369.2 528.5,371.5 506.6,358.1 474.5,367.2 521.2,380.9 517.5,396.2 512.1,390.9 519.2,378.8 521.4,388.5 476.9,399.6 511.6,399.8 513.7,362.5 478,365.6 503.3,403.5 499.9,344.3 512.6,374.1 510.5,385.7 523.4,369.2 502.4,396.6 504.6,359 506.9,342.7 478.3,361.3 502.3,352.2 509.5,366.7 489.9,401 479.3,395.5 489.3,345.1 499,393.7 501.7,341.3 494.3,343.4 480.4,398.3 487.7,404.2 478.6,392.2 498.5,398.7 486.6,349 502.6,396.6 472.4,374.9 472.5,382.5 472.4,379.3 511.4,364.5 494.6,344 485.9,399.6 513.2,387.9 530,376.7 487.8,352 489.6,352.9 498.6,401.2 494,338.4 507,393.5 487.8,356.9 492.7,399.6 470.7,390.1 477.7,357.9 516.3,393.7 488.9,355.4 498,396.1 504,395.2 507.4,369.9 497.7,347.3 519.9,355.3 504.5,391.7 498,397.1 508,388 499,350 507.1,388.7 488.1,356.8 515.1,390 479.8,398.4 504.8,393.7 487.4,357.2 480,395.3 518.2,374.4 504.2,359.1 502.2,389.1 517.9,399.6 479.8,357.8 512.1,381.5 482.4,362.6 509.8,385 515.8,379 512.6,371.8 479.5,359.6 476.8,357.9 510.7,380.9 483.5,346 516.5,385.5 515,376.7 511.1,375.4 526.1,394.1 476.9,391.6 498,400.2 494.9,400.3 501.5,349.9 507.5,360.9 496.9,350.8 490.6,353.2 502.1,348.8 487.1,342 506.1,391.1 510,379.4 474.6,386.8 504.6,387 480.1,381.5 510,357.6 475.7,365.9 491.2,399.5 515.2,383.1 504.3,360 482.8,391.1 504.4,394.9 484.5,351.8 508.5,378.8 505.1,386.1 491.1,337.6 502.5,358.2 480.2,390.4 490.4,338.4 494.2,396.8 478,396.6 506.6,364.9 484.1,346.5 474,380.7 483.2,368.1 515.9,375.1 489.4,346.9 502.3,358.7 489.2,395.7 506.2,366.7 504,365.5 507,377.3 503.8,387.5 496.5,396 517.8,384 515.2,367.6 485.6,366.9 508.1,357.3 478.6,375.7 481.9,394.7 479.9,352.9 509.1,379 505.6,345.3 491.1,354.9 496.2,345.7 476.7,357.3 480.8,380.2 471.2,381.5 475.6,403.5 498.8,397.7 509.4,373.3 479.2,396.1 483.2,389.6 504.4,397.8 491.5,355.3 507.6,373.1 503.3,359.7 479.9,379.2 498.8,358.7 498.1,397.3 519.4,371.2 479.8,377.6 508.2,390.2 495.8,397.4 502.2,377.9 504.4,370.3 481.9,355.8 504.2,364.2 476,384.7 505.7,382.4 486.6,364 507.9,402.4 475.4,390.7 475.2,391.3 510.5,369.3 493.9,396.7 489.7,399.7 482.9,363.1 513.6,369.4 499.2,349.2 513.9,369.1 511.8,368.5 488.6,360 510.6,359.7 482,371.1 500,393 490.5,394.4 484.3,357.1 501,389.1 489.6,356.7 495.3,358.7 481.1,385.6 476.5,389.8 476.9,378.4 495,397 479.8,366 503,368.2 504.3,395.4 470.8,369.9 499.4,355.5 484.3,370.1 484.9,373 501.4,358.5 481,365 497.8,399.2 483.4,359.4 483.1,383.3 492.9,351.4 488.3,365.5 501.8,366.5 478,383.9 502.7,387.6 475.5,387.1 483.7,394.1 489.6,362.6 473.8,367.9 480.1,367.9 504.5,382.1 481.4,373.2 496.3,360.2 492.4,359.4 488.9,402.8 482.7,381.4 507.9,385.6 475.7,387.4 483.7,387.2 487.8,347.6 482.8,380.4 478,405.2 484.8,352.1 487.7,412.6 482,376.5 526.6,385.8 478.1,386.2 498.7,369.3 478.4,372.9 477.7,382 512.1,377.8 485.9,365.6 481.8,379.2 484.7,390.3 490.1,360.6 498.2,365.5 495.2,350.9 486,371.8 484.9,360.5 522.1,371.4 477.5,389.8 490,378.9 496.2,353.3 500.8,392.1 502.4,374.3 501,355 487.6,357.3 478.5,368.4 501.1,388.8 475.9,354.9 475.7,366.4 498.5,348.8 491.3,393.1 497.4,355.1 502.7,387.2 485,389.4 485.9,395.2 484.1,383.4 497.7,361.6 507.2,359.5 486.4,399.8 488.4,392.6 500.7,364.3 504.3,379.1 481.3,388.6 504.3,370 522.2,394.6 498.8,354.4 494.3,396.5 475.2,374.4 503.4,385.4 501.7,385.4 500.9,379.1 498.5,362.2 480.3,373.7 511.4,382.7 506.5,363.1 525.7,390 508.6,368.7 503.7,351.6 475.5,371 501.4,359.9 493.9,381.3 473.1,384 510.5,374.7 473.3,376.6 494.8,392.5 512.7,377.6 476.8,380.2 503.3,368.3 493.9,378.1 481.3,365.4 487.2,347.6 488.2,371.1 503.9,371.1 499.3,371.3 496.9,369.2 497.2,390.4 499.1,379.7 492.8,396.3 489,367.1 490.6,375 491,380.6 511.9,387.2 484.8,393.7 503.4,363.6 512.3,364.9 494.2,380.6 491.3,362.3 493.7,376.3 482,395.9 475.4,371 489,382.4 492.9,372.7 494.5,391.4 485.2,373.7 473.3,380.9 491.1,386.4 502.9,371.3 486.9,379.8 496.2,365.7 487.8,373 500.6,389.4 485.4,386.8 490.1,373.9 503.4,380.2 489.9,389.5 476.8,382.4 486.4,399.9 490.3,386.7 494.5,365.8 488.1,392.4 500.7,373.5 494.7,372.5 524.1,381.2 494,352.2 494.9,389.7 495.7,384.9 493.6,359.6 519.2,362.2 498.6,392.5 488.3,377.4 495.4,364.4 503.5,381.8 474.7,363.2 491.4,368.8 505.3,374.6 487.8,395.6 486.6,386.5 494.2,388.7 493.7,356.6 489.5,379 490,365.9 496.9,374.4 483.6,379.4 498.7,384.1 491.2,363.5 494.6,379.1 500.4,373.5 497.5,377.1 495.9,385.5 502.7,371.3 491.9,386.6 511.7,376.3 501.6,387.6 483.8,396.8 486.9,367.5 494,369.3 500.3,376.8 516.5,394.3 479.8,389.7 487.4,374.8 491.1,392.2 493.7,349.1 485.7,388.1 482.8,382.8 490.5,365.6 496.1,368.8 501.4,371.9 486,370 517.3,368.1 494.5,376.2 498.1,381.7 496.9,379.1 500.6,374.9 505.4,373.7 485.8,367 481,371.8 485.2,368.1 501.5,381.2 486.9,384 492.6,384.1 478.7,379.5 487.2,391.4 493.7,384.3 494.1,373.5 484.1,382.7 487.4,388.9 495.3,390.5 499.4,387.1 474.9,387.1 490.2,362.4 494.8,363.7 495.9,360.3 489.3,381.2 491.2,387.4 494,384.6 509.5,390.5 498,377.1 486.3,385.4 491.6,369.4 495.4,387 483.8,376.2 490.5,405.5 508.9,381.2 484.2,378.9 483.9,377.6 486.7,383.1 482.4,377.8 509,377.4 496.4,377.1"/>
<path class="s" d="M457.2,325.3V419H543.3"/>
<path class="t" d="M461.60,418.95v2.40M492.31,418.95v2.40M523.02,418.95v2.40M457.24,411.78h-2.40M457.24,394.69h-2.40M457.24,377.61h-2.40M457.24,360.53h-2.40M457.24,343.44h-2.40M457.24,326.36h-2.40"/>
<polyline class="p" points="76.1,444.1 76.1,449.5 76.1,440.1 76.1,515.4 76.1,517.8 76.1,446.8 76.1,447.3 76.1,445.8 76.1,447.6 76.1,515.8 76.1,519.1 76.1,454.9 76.1,517.8 76.1,449.4 76.1,457.5 76.1,461.8 76.1,517.3 76.1,514.2 76.1,454.3 76.1,437.9 76.1,513.8 76.1,512.3 76.1,451.9 76.1,445.6 76.1,454.1 76.1,453.9 76.1,451.6 76.1,511.7 76.1,443.8 76.1,511.3 76.1,513.7 76.1,455.7 76.1,457.7 76.1,464 76.1,461.5 76.1,448.4 76.1,467.3 76.1,509.7 76.1,460.5 76.1,458.1 76.1,461.2 76.1,509 76.1,513.1 76.1,456.3 76.1,472.5 76.1,463.1 76.1,462.7 76.1,466.6 76.1,503.3 76.1,506.8 76.1,513.5 76.1,510 76.1,473.8 76.1,469.8 76.1,447.8 76.1,505.5 76.1,479 76.1,453.1 76.1,505.7 76.1,504.4 76.1,507.6 76.1,507.8 76.1,470.7 76.1,476.9 76.1,474 76.1,452.9 76.1,477.1 76.1,502.3 76.1,465.7 76.1,471.5 76.1,448.9 76.1,469 76.1,508 76.1,510.8 76.1,466.8 76.1,510.6 76.1,464.2 76.1,501.2 76.1,474.5 76.1,464.7 76.1,497.5 76.1,500.4 76.1,508.1 76.1,492.1 76.1,487.5 76.1,496.6 76.1,510.6 76.1,506.5 76.1,450.7 76.1,486.7 76.1,456.5 76.1,492.9 76.1,475 76.1,508.9 76.1,472.9 76.1,493.5 76.1,490.9 76.1,498.5 76.1,480.7 76.1,482 76.1,475.9 76.1,488.7 76.1,465.3 76.1,477.3 76.1,478.7 76.1,459.8 76.1,502.9 76.1,499.4 76.1,458.8 76.1,481.4 76.1,482.8 76.1,478.4 76.1,472.8 76.1,495.8 76.1,501.6 76.1,496.5 76.1,477.4 76.1,487.8 76.1,504.2 76.1,486.6 76.1,493.9 76.1,479.8 76.1,508.7 76.1,490.6 76.1,485.2 76.1,484 76.1,491.7 76.1,489.5 76.1,486.2 76.1,467.9 76.1,481.5 76.1,495.3 76.1,489.1 76.1,484.5 76.1,498.2 76.1,490.4 76.1,468.6 76.1,497.7 76.1,498.1 76.1,494.8 76.1,499.8 76.1,468.6 76.1,483.4"/>
<path class="s" d="M33.1,431.4V525.1H119.2"/>
<path class="t" d="M51.17,525.10v2.40M76.14,525.10v2.40M101.12,525.10v2.40M33.12,524.38h-2.40M33.12,506.29h-2.40M33.12,488.20h-2.40M33.12,470.11h-2.40M33.12,452.02h-2.40M33.12,433.93h-2.40"/>
<text x="28.22" y="527.58" text-anchor="end">20</text>
<text x="28.22" y="509.49" text-anchor="end">30</text>
<text x="28.22" y="491.40" text-anchor="end">40</text>
<text x="28.22" y="473.31" text-anchor="end">50</text>
<text x="28.22" y="455.22" text-anchor="end">60</text>
<text x="28.22" y="437.13" text-anchor="end">70</text>
<text transform="translate(17.51,480.15) rotate(-90)" text-anchor="middle">vibration</text>
<text x="51.17" y="535.10" text-anchor="middle">0.98</text>
<text x="76.14" y="535.10" text-anchor="middle">1.00</text>
<text x="101.12" y="535.10" text-anchor="middle">1.02</text>
<text x="76.14" y="543.90" text-anchor="middle">machineID</text>
<polyline class="p" points="158.1,505.2 210.1,495.5 169.4,511.6 208.9,497.1 172.7,513.3 206.3,495.1 184.6,513.1 170.8,451.6 153.9,500.6 165.6,444.1 156.4,462.4 185.1,449.5 170.7,448.8 157.3,452.4 175.2,440.1 197.7,515.4 208.5,489.7 167.9,448.4 187.1,452.5 172.4,517.8 196.3,473.1 204.5,508.9 198.2,465.9 186.8,510.8 154.6,496.9 176,446.8 190.3,456 164.2,466.7 150,447.3 202.9,477.8 162.9,455 200.1,502.7 160.2,450.8 206.5,498.7 198,500 153,498.7 156.1,500.6 201.5,497.1 204.6,492.3 156.1,476.1 200.5,492.3 197.7,464.5 207.2,500.9 202.6,497.5 185.2,511.8 195.5,473.4 174.5,445.8 201,500.4 168.1,448.7 204.3,496 207.4,479 150.5,499.4 167.8,513 196.6,507.5 197.8,463.4 158.6,462.7 170.4,510.5 148.7,493.9 168.4,455.9 208.6,500.5 179.4,452.3 155,495.1 200.1,498.6 165,447.6 185.4,511.1 193.1,509.7 196.8,506 167.9,511.1 154.7,504.3 190.5,508.3 167.3,515.8 157.3,461.1 152.4,481.1 185.3,509.3 181.8,519.1 204,470.3 164.5,513.5 158.5,498.3 197.7,505.7 182.2,464.7 165.1,511.7 175.3,455.3 200.5,501.1 166.2,463.3 199.2,504.7 181.2,517.6 154.7,484.8 163,468.4 170.9,454.9 206.5,485.1 197.6,502.7 166.5,462.3 151.4,517.8 172.9,449.4 204.9,499.3 189.3,457.5 153.1,477.8 168,511 198.5,476.9 178.5,461.8 157.2,504.6 186.9,460.9 171.1,458 184.6,517.3 200.6,492 154.8,479.5 163.3,470.9 183.6,514.2 155.5,460.8 206.2,492.4 179.8,454.3 182.3,513 203.2,491 163.3,510.4 182.2,454.3 157.2,475.9 203.1,480.2 174.1,457.8 155.3,503.8 191,501.6 202.8,481.7 176.7,437.9 154.5,472.3 200.1,491.8 147.2,487.8 196.3,502.4 175.4,458.8 178.5,458 175,513.8 175.4,511.8 158.4,469.7 175.5,460.7 186.3,509 180.1,460.7 194.8,472.8 157.8,476.7 155.4,493.7 183.2,508.8 165.6,459.7 189.2,511.6 160.2,473.3 186.8,475.2 186.4,456.3 183.2,463.7 198.5,479.2 186.4,508.7 169,463.2 175.4,463 166.9,455.8 188.8,451.9 170.3,445.6 154.1,499.9 208.1,480.1 154.9,493.1 178.8,454.1 192.3,458.5 188.6,464.9 172.9,456.6 179.7,453.9 158.3,465.5 177.7,463 196.6,464.3 198.1,466.8 173.9,451.6 179.4,469.4 194.4,473.7 166.3,468 185.7,506.8 189,503.6 184.8,465.6 202,488.3 208.6,487.5 193.5,477.1 190.4,500.3 185.6,502.7 190,473.8 200.5,478.7 193,469.6 197.8,503 192.2,478.9 157.8,475.4 167.4,511.6 205.1,489.6 193.9,506.2 193.8,493.9 190.2,473.9 171.8,511.5 181.1,511.7 193.2,505.2 194.8,497.2 188.5,501.6 202.3,483.8 198,494.6 187.3,501.2 197,498 173.5,443.8 149.3,492.9 153.9,508 154.8,487.8 165.7,513.7 194.1,460 202.4,488.3 163.6,470.8 195,499.7 174.2,455.7 163.8,473.9 187.9,477.7 204.7,484 177,469.7 188.2,470.8 177.6,461.3 216.7,493.2 185.2,473.5 182.2,457.7 156.2,497.3 168.7,458.1 182.5,502.1 167.1,464.7 186.5,464.9 178.1,464 154.2,482.7 153.9,492.3 185.5,467.6 154.7,484.1 189.9,460.5 168.1,464.3 178.6,466.5 185.8,459.8 191.6,475.5 172.9,461.5 182.6,466.1 201.4,481.9 172.6,448.4 158.8,497.5 200.9,476.3 184.4,500.5 191.5,470.3 208.2,484.7 169.7,471.9 163,467.4 154.6,486 190.1,509.1 174.5,467.3 192.1,498.8 150.9,490.6 163.3,507.8 192.9,505.7 172.4,461.2 157.5,474 168.7,469.1 157.8,477.6 201.2,471.3 208.1,473.1 203.4,487.8 153.3,490.3 159.6,478 165,502 184.6,505 183.3,471.3 170.1,509.7 159.7,501.3 190.9,475.2 182.2,460.5 158.3,481.2 161.2,483.9 205.9,494 192.8,480.2 189.6,489.5 199.1,504 160.2,492.5 196.6,474.5 184.9,474.7 155.9,483.3 183.4,458.1 165.7,461.2 161.7,496.1 159,498.3 186.2,469.6 160.9,504.3 165.6,500.4 170.2,468.4 167.6,472.5 166.3,510.1 162.7,479.3 166,474.5 190.9,482.5 183.6,506.6 194.4,501.8 200.7,509 186,501.2 161.9,501.4 164,494.1 176.7,513.1 206.2,507.9 201.4,474.2 184.4,468.1 172.4,503.6 164.9,499 194.3,505.4 160.4,496.5 182.4,474 182.8,499 181,470.2 190.7,475.2 160.2,491.6 174,456.3 180.6,503 168,474.5 164.1,492.5 167.5,470.7 184.9,469.5 173,508.7 198.2,484.1 198.7,483 168.5,473.9 205.6,495.3 166,500.4 157.8,490.1 166.2,507.5 179.1,469.8 165.8,508.1 189.4,466.8 196.1,486.7 201.2,490.6 174.2,463.1 197.6,484.1 194.3,485.2 191.7,481.4 189.1,462.7 197.1,479.5 202.7,479 194.3,482.2 197.7,492 156.9,494.2 169.2,478 188.2,501.4 165.7,499.8 166.5,503.3 164.4,492.9 186.7,506.8 180.1,506.3 171.6,502.9 162.2,491.1 185.8,475.6 163.2,474.1 160.5,487.7 179.1,513.5 166.2,506.3 203.7,490.5 187.1,488.9 149.6,492.4 188.6,505.1 176.8,508 182.8,498.3 159,491.3 188.6,510 179.8,502.6 173.9,473.8 177.9,501.1 187.8,492.2 193.7,491.9 192.2,487.5 173.2,469.8 182.9,507.8 192,498.4 191.6,479 194.6,491.4 160.1,488.2 189.2,481.5 162.8,505.1 165.6,497.1 185.2,500.3 173.4,447.8 183,498.1 189.7,504.9 205.1,485 179.1,479.5 178.4,504.5 162.1,505.5 187.3,464.8 163,481.1 192.5,500.6 162.9,497.2 164.9,490.8 179.6,482.9 176.8,479 172.9,453.1 160.3,489.7 160.1,505.7 189.9,490.9 156.5,483.7 186.1,478.1 166.5,494.8 192.5,493.7 167.7,504.4 178.8,477.8 176.5,507.6 189.2,507.8 198,480.9 173.6,493.6 182.5,496.9 192.6,495.7 188.8,497.9 196,488.6 177.1,470.7 162.2,476.9 189.6,495.1 190.1,492.9 163.6,483.2 180,474 169,491.9 175.3,501.1 176.8,474 155.8,488.8 183.5,452.9 185.9,480.5 190.1,485.9 181.3,508.4 170,475.2 190,477.1 190.8,478 170.1,502.3 174.7,465.7 172.6,471.5 159.6,448.9 171.4,469 170.8,493 179.3,474.8 171.7,508 186.8,491.4 199.7,487.9 175.8,510.8 187.8,480.7 165.4,489.2 166.8,466.8 195.7,477.8 181.5,474.8 192.6,510.6 180.6,478.8 174.5,464.2 170.2,506.5 165.5,475.2 171.4,487.5 176.6,501.2 191.6,494.2 175.9,493 173.6,474.5 169.8,489.8 154.7,480.2 176.6,492.1 170.9,490.2 158.1,489.7 170.3,465.1 185.7,497 168.8,475.1 181.2,495 198.9,486.9 170.2,464.7 179.4,494.8 166.8,497.5 170.4,485.5 162.3,489.4 169.2,500.4 173.9,508.1 171.8,492.1 166.5,487.5 167,494.7 169.3,485.6 163.8,496.6 179.5,510.6 181.9,489.7 182.8,475.7 169.6,494.6 177.7,493.5 172,478.5 173.2,482.2 187.7,496.4 162.9,490.8 164.3,486 163.2,475.2 199.6,491 170,506.5 178.5,490.6 180.4,485.7 190.1,493.1 166.3,478.4 176.5,481.3 166.1,482.6 166.6,450.7 168.8,486.2 175.2,485.1 179.1,484.2 182.8,486.7 192,456.5 187,480.8 181.3,492.9 187.3,484.6 168.7,475 180.2,508.9 184.3,489.3 161.7,472.9 183,493.5 148.6,495 182.9,486 173.4,486.5 206.1,491.5 172.6,490.9 171.6,482.8 171.4,498.5 181.4,480.7 165.1,489.5 185.1,485.5 174.8,478.7 183.8,482 169.9,484 185.6,475.9 179.7,488.7 183,465.3 175.3,477.3 172.3,498.3 170.1,494.6 158,486.3 182.7,478.7 169.6,459.8 170.8,502.9 178.3,494 173.6,489.6 177.7,486.5 170.5,495.9 172.8,499.4 188.3,490.4 180.9,483.7 182,477.4 192.6,495.7 178,458.8 189.9,485.7 169.5,481.4 176.6,482.8 164.6,478.4 178.3,472.8 185,495.8 154.8,501.6 175.4,496.5 177.7,477.4 179.2,494.5 176.4,487.8 175.1,504.2 177.9,494.2 176.5,486.6 191,486.1 188,497.9 183.7,493.9 182.9,484.7 170.7,479.8 171.8,508.7 184,490.6 167.4,485.2 183.7,484 183.9,491.7 192.3,489.5 185.4,486.2 171.4,467.9 172,481.5 159.6,495.3 175.3,489.1 185,484.5 180.4,498.2 173.6,490.4 191.7,468.6 178.6,497.7 174.5,498.1 170.9,494.8 180.2,499.8 196.2,468.6 179.2,483.4"/>
<path class="s" d="M139.2,431.4V525.1H225.2"/>
<path class="t" d="M165.52,525.10v2.40M194.49,525.10v2.40M223.46,525.10v2.40M139.15,524.38h-2.40M139.15,506.29h-2.40M139.15,488.20h-2.40M139.15,470.11h-2.40M139.15,452.02h-2.40M139.15,433.93h-2.40"/>
<text x="165.52" y="535.10" text-anchor="middle">150</text>
<text x="194.49" y="535.10" text-anchor="middle">200</text>
<text x="223.46" y="535.10" text-anchor="middle">250</text>
<text x="182.18" y="543.90" text-anchor="middle">volt</text>
<polyline class="p" points="272.5,469.8 268.4,498.7 264,502.1 316.1,488.5 290,513.1 312.3,483 277.8,457.6 277.8,451.6 263.2,468.5 253.7,473.4 293.9,444.1 316,484.7 277.1,449.5 297.2,448.8 299.3,452.4 283.6,463.7 263.8,487.3 289,440.1 293.2,515.4 310,470.5 275.3,509.1 279.3,448.4 265.6,473.6 309.9,482 284.8,457.1 296,452.5 293.9,517.8 313.6,491.5 271.2,477.6 302.1,462.9 306.1,468.4 313,496.1 283.5,461.2 310.3,478.2 302.3,446.8 264,500.1 322.1,456 289.8,447.3 296.6,455 303.2,510.8 273.8,450.8 312.6,475.6 275.3,468.1 264.5,484 283.3,465 260.7,490.3 293.8,510.9 265.3,466.8 309.6,503 272.8,462.2 274.6,465.3 312.2,496.2 265,486.9 300.6,445.8 268.6,448.7 276.5,462.5 268.1,495.3 317.3,501.7 276.8,513 313,470.9 275.6,509.9 315.4,487 311.6,495.8 309.2,503.5 306,468.3 274.4,505.2 316.6,493.9 274.1,455.9 275.8,473.6 266.6,480.9 269.2,495.3 292.6,452.3 274.7,466.7 277.6,460.4 267.9,493.9 271.9,467.2 305.5,462.8 283.8,447.6 309.2,464.3 277.1,509.1 291.3,511.8 307.1,509.5 312.6,509.2 316.6,456.3 296.2,510.9 275.3,459.5 274.2,503.8 303.1,464.5 282,515.8 285,461.1 296.1,509.3 292.1,519.1 269.3,479.7 274.1,513.5 305.9,508.2 272.4,466 270.4,491.7 305.8,464.7 271.1,478.8 292.1,511.7 282,455.3 265.7,491 301.5,517.6 309.8,483.6 284,463.2 262.4,470 300.5,454.9 308.5,507.8 267.7,482.7 286.5,459.7 314.7,489.1 294.2,510.7 309.2,517.8 290.6,449.4 304.2,468.7 307.9,502.3 313.6,473.8 310.4,495.3 267.8,480.5 260.1,487.6 306.2,504.2 307.9,476.8 269.2,506 265.6,498.6 306.1,469.9 266.6,486 287.5,461.2 304.4,503.9 276.7,461.8 268.6,491.9 290.7,458.5 280.3,460.9 284.3,458 302.9,469 285.7,517.3 308.5,470.9 307.9,501.8 307.5,514.2 272.6,472.8 305.2,502.4 293.2,454.3 288,513 293.9,510.2 286.9,509.1 300.7,510.4 289.4,454.3 301.6,509.6 301.5,467 304.5,457.8 317.1,484.8 263.2,484.1 277.4,474 283.6,509.4 308.1,477.9 294.3,437.9 266.8,498.2 313.7,492.4 277.3,467.9 265.6,477.5 289,458.8 296.2,458 283.3,513.8 304.5,511.8 303.9,462.8 313.9,471.9 287.7,507.7 268.1,482 277.1,460.7 276,475.7 285.3,509 288.8,460.7 304.3,503.5 301.8,508.8 309.8,497 281.5,512.3 288.5,459.7 293,511.6 288.2,507.6 275.2,504.8 293,456.3 301.5,463.7 280.8,508.7 296.7,455.8 297.4,451.9 294.5,445.6 267.8,487.9 312.9,492.6 276.5,471.3 267.3,491.2 314.6,487.1 312.3,504.4 287.1,454.1 293,458.5 287.8,456.6 300.9,465.8 264,453.9 302.4,505.6 289.9,463 314.6,499.4 299.8,466.8 279.7,451.6 306.6,475.9 276.9,470.3 272,502.5 304,469.4 310,497.9 270.1,506.8 276.6,465.6 314.8,488.6 267,499.2 270.9,474.9 306.7,473.8 275.4,504.7 265.5,488.6 292.7,511.6 310.5,494.4 304.6,471.1 291,511.5 299.2,511.7 300.4,505.2 271.1,471.8 283,465.8 309.3,482.1 298,463.6 310.3,491 289.2,443.8 272.4,500.3 291.2,511.3 283.6,513.7 293.5,460 310.8,509.5 309.8,455.7 307.5,484 286.9,469.7 309.2,479.8 304.1,502.9 303.6,503.3 299.8,457.7 278.7,473.7 272.9,475.1 304,474.2 280.3,458.1 283.8,464.7 305.2,477.8 294.1,464.9 277,464 274.9,482.7 307.1,499.2 268.3,491.5 305.1,494.8 291.2,460.5 271.2,495.8 286.4,464.3 304.5,506.5 305.1,494.1 277.4,466.5 286.8,459.8 309.3,493.5 300,508.7 310.1,507.4 311.3,474.2 295.7,461.5 295.6,466.1 309.4,479.3 304.6,448.4 276.6,476.3 284.7,470.3 271.9,503 312.2,485.6 278.6,476.6 279.7,473.7 279.9,467.4 308.7,491.1 278.5,509.1 306.5,492.5 291.3,467.3 282.4,507.8 272.4,498.3 302.6,502.5 299.5,505.7 279.7,461.2 305.3,499 302.7,499.4 302.1,472.8 309.9,486.2 275.7,478.5 294.3,469.1 288.1,471.3 280.1,473.1 307.1,480.8 284.3,502 294.7,509.7 285,501.3 309.4,485.8 273.6,485.6 290,460.5 298.5,502 281.1,471.9 282.4,472.3 269.2,487.2 272.3,484.6 292.5,458.1 299.3,461.2 314.6,482 310.3,498.3 302.1,504.3 277.9,468.4 295.2,472.5 300,510.1 296.2,501.4 283.2,474.5 282.5,506.6 306.9,489.3 295.3,509 276.7,501.2 277.8,486.8 279.7,513.1 301.9,474.2 291.9,468.1 279.8,503.6 308.6,495.1 298.1,474 309.5,470.2 301.8,475.2 291.1,502.8 299.9,456.3 295.5,503 278.9,474.5 288,470.7 297.7,469.5 297.6,508.7 299.6,500.4 300.9,474.2 291,472.5 279.3,495 265.9,499.2 298.9,469.8 290.7,508.1 269.4,490.3 272.2,487.1 289.5,508.4 287.8,466.8 277.3,483.4 267.3,499.3 290.4,463.1 293.7,462.7 295.3,465.3 290.1,466.6 274,490.5 278.8,497.6 282.2,494.2 274.8,499.2 272.8,493 273.5,497.3 306.1,486.9 290.9,501.4 292.7,499.8 281.7,503.3 298.9,506.8 293.3,506.3 294.2,502.9 276.6,491.1 313.6,475.6 296.6,474.1 300.1,488.2 285.5,513.5 284.7,506.3 278.4,479 278.6,474.8 285.6,501.5 295.8,479.2 296.6,487.5 277.7,505.1 302.1,476 296.6,508 277,510 287.5,502.6 285.8,473.8 285.7,501.1 267.2,480 280.4,492.6 297.6,499.5 293.2,469.8 279.5,491.2 289,507.8 277.9,493.5 281.8,491.4 274.1,499.4 303.6,505.1 307.9,497.1 307.6,493.6 302,500.3 301.9,447.8 299.1,504.9 295.9,480.7 288.3,504.5 297.3,505.5 279,464.8 270.1,487.2 277.8,490.3 308.9,500.6 281.2,497.2 277.1,490.8 310.8,488.2 269.3,482.9 282.4,495.6 281.7,479 298.8,453.1 289.6,505.7 304.3,475.8 304.6,487.8 283,497.4 285.9,478.1 303.3,478 278.1,484.9 296.3,504.4 288.1,477.8 283.6,507.6 290.7,507.8 297.2,496.9 304,494 302.8,470.7 297.3,476.9 299,492.9 307.5,478.3 298.7,474 301.2,489.6 303.2,477.8 280.4,501.1 287.6,474 295.1,493.9 288.5,452.9 294.2,480.5 285.6,508.4 300.9,475.2 293.1,477.1 302.9,478 271.2,481 301.2,502.3 279,465.7 292.7,471.5 304.5,448.9 277.9,469 280.8,474.8 309.9,508 279.9,477.5 282.7,491.4 274.5,487.9 275.3,495.1 290.5,510.8 286.6,480.7 283.6,466.8 282.8,477.8 279.9,474.8 299.3,510.6 302.3,478.8 276.2,464.2 290.5,506.5 294.7,475.2 298.7,486.3 282.9,501.2 308.7,494.2 287.1,493 283.4,474.5 287.9,480 300.4,482.7 292.3,480.2 287.5,492.1 264.2,489.7 289.1,465.1 280.5,475.1 293.3,495 289.3,464.7 275.7,485.9 302.8,485.8 281,497.5 272.7,500.4 279.4,508.1 299.4,494.7 285.6,496.6 290.9,510.6 284.2,489.7 295.6,475.7 283.6,494.6 294.1,483.6 302.3,478.5 282,482.2 290,496.4 277.8,490.8 288.1,486 284.4,475.2 280.5,491 283.2,506.5 302.4,490.6 287.8,485.7 290.1,493.1 272.3,478.4 284.6,481.3 307.5,485.4 305.3,482.6 270.4,450.7 304.2,486.2 288.1,485.1 278.5,484.2 295.3,486.7 296.9,456.5 296.6,480.8 294.1,492.9 291.1,484.6 289.3,475 295.3,508.9 312.7,489.3 291.3,472.9 276.7,493.5 303.2,495 291.5,486 280,486.5 305.4,491.5 300,490.9 289.2,482.8 292.6,498.5 274.4,480.7 291.5,489.5 270.8,485.5 279.2,478.7 304,482 300.5,484 282.7,475.9 284.2,488.7 297.2,465.3 287.9,477.3 290.8,498.3 288.2,494.6 279.2,486.3 301.5,478.7 274.4,459.8 287.1,502.9 277.5,494 287.9,489.6 289.6,486.5 288,495.9 291.6,499.4 296.2,490.4 303.6,483.7 290.2,477.4 300.8,495.7 304.1,458.8 298,485.7 277.9,481.4 283.5,482.8 297.8,478.4 300.3,472.8 286.1,495.8 287.3,501.6 296.4,496.5 299.6,477.4 285.9,494.5 280.8,487.8 274.8,504.2 283.7,494.2 293.6,486.6 282.9,486.1 299.9,497.9 293.5,493.9 285.3,484.7 298.6,479.8 277,508.7 294.1,490.6 284.8,485.2 293.5,484 300.2,491.7 279.7,489.5 295.3,486.2 288.9,467.9 287.4,481.5 275.3,495.3 288.9,489.1 288.7,484.5 290.3,498.2 287.9,490.4 279.9,468.6 302.6,497.7 287.9,498.1 300,494.8 295,499.8 282.4,468.6 297.6,483.4"/>
<path class="s" d="M245.2,431.4V525.1H331.2"/>
<path class="t" d="M251.43,525.10v2.40M283.54,525.10v2.40M315.65,525.10v2.40M245.18,524.38h-2.40M245.18,506.29h-2.40M245.18,488.20h-2.40M245.18,470.11h-2.40M245.18,452.02h-2.40M245.18,433.93h-2.40"/>
<text x="251.43" y="535.10" text-anchor="middle">200</text>
<text x="283.54" y="535.10" text-anchor="middle">400</text>
<text x="315.65" y="535.10" text-anchor="middle">600</text>
<text x="288.20" y="543.90" text-anchor="middle">rotate</text>
<polyline class="p" points="375,511.6 370.5,497.1 400.3,457.9 422.4,507.6 397.9,513.3 410.4,461.9 394.4,451.6 415.9,495.1 418,490.3 395.9,444.1 376.7,507.2 391.2,449.5 399.9,448.8 386.4,452.4 379.5,510 370.9,501 391.9,440.1 393.7,515.4 407.7,509.1 383.6,448.4 419.8,491.8 374.6,468.3 378.4,457.1 418.6,458.9 390.2,452.5 374.7,509.8 379.2,517.8 371.5,478 414.6,470.5 377.2,506.8 368.7,503.9 404.9,510.8 370.7,480.7 423.1,494.9 395,446.8 369.3,456 397.9,510.4 413.6,466.7 404.5,511.6 421.6,485.7 391.1,447.3 390.9,455 407.9,466.9 389.3,450.8 374.8,471.5 372.3,472.9 368,488.7 416,467.9 370,501.4 419.6,485.9 398.3,445.8 386.8,448.7 383,510.6 414.9,509.4 384.1,513 372,472.8 416.5,489.9 369.1,463.4 377.6,463.3 405.4,508.3 377,465.7 369,482.3 373.6,473.1 419.3,483.1 415.3,502.9 370.6,474.4 386,455.9 369,494.5 417.1,478 418.8,503.6 393.9,452.3 417.9,491.5 372.6,479.5 403.9,462.8 417.7,497.4 382.3,447.6 368.5,488.2 371.6,496.8 406.1,461 410.9,502.9 393,511.8 378.4,511.1 412.7,456.3 366.3,493.8 397.1,510.9 397.2,510.6 415.4,499.8 372.8,498.6 370.6,468.3 414.6,476.9 387.4,515.8 407.8,473 395.2,461.1 409.1,473.9 387.6,519.1 386.8,513.5 407.6,474.3 422.8,498.6 416.6,481.2 396.6,511.7 367.7,500 395.5,455.3 422.7,481.8 369.8,469.1 393.6,463.3 378.8,517.6 412.3,505.8 401.4,454.9 417.3,484.4 419.3,507.8 375.5,459.7 425.1,476.1 380.8,460.2 391.7,462.3 378.7,510.7 402.4,517.8 388.8,449.4 417,487.2 367.2,477.3 376.3,505.3 416.1,479.3 386.5,457.5 377.3,508.9 419.1,478.4 369.1,489 371.1,507.1 415.4,475 411.8,461.2 402.1,461.8 396,458.5 402.3,510.4 413.6,460.9 398.2,458 400.9,469 383.5,517.3 367.3,499 412.1,499.8 377.9,514.2 405.6,460.8 404.4,454.3 384.9,513 400.4,510.2 415.7,510.4 378.4,454.3 424.3,509.6 426.7,498.4 383.7,457.8 408.5,506.3 416.7,485.9 370,482.8 400,509.4 377.8,437.9 414.5,488.2 415.5,490.1 385.1,458.8 393.1,458 390.5,513.8 383.4,511.8 383.3,462.8 405,466.7 427.3,469.7 429,478.1 407.9,460.7 422.6,484.1 377.3,460.7 374.7,477.9 412,491.4 402.4,509 424.9,490.9 402.2,508.8 402.9,502 407.7,476.6 408.8,499.3 409.6,496.9 394.6,512.3 389.8,459.7 403.7,511.6 426.7,498.7 374.2,473.3 390.4,456.3 392.1,463.7 410.5,473.7 393.3,508.7 417.7,463.2 370,488.4 405.4,455.8 396.5,451.9 394.6,445.6 406.1,471.3 398.2,509.2 386.4,454.1 373.3,458.5 377.9,464.9 388.3,456.6 379.9,453.9 370.4,506.4 370.2,465.5 402.3,463 399.7,505.1 367.1,475.2 417.9,479.3 392.3,464.3 396.6,451.6 373,476.3 405.3,473.7 419.3,471.1 403.4,504.7 411.2,476.4 398.7,468 369.2,491.1 417.3,491.8 375.5,480.3 420.5,477.1 418.7,485.9 371.6,502.2 366.5,493.6 376.8,504.4 371.2,480.9 413.9,495 373,476.1 391.6,511.6 398.8,503.3 385.1,511.5 387.9,511.7 400.6,465.8 418.2,485.5 370.4,495.7 380.5,463.6 390.1,443.8 411.4,493.5 410.6,491.4 369,480.8 423,486.2 375.7,470.9 407.1,493.5 370.4,487.8 378.6,513.7 406.3,505.4 375.4,460 408.4,492.2 374.2,474.4 395.9,470.5 415.4,481.9 408.5,455.7 377.2,473.9 380.4,469.7 413,480.3 379.8,470.8 407.2,493.2 378.6,461.3 371.4,502.9 375.4,473.5 406.9,494 374.1,502.7 392.1,457.7 405.2,474.2 379.4,476.6 370.4,458.1 406.3,503 387.1,464.7 386,464.9 402.2,499.8 383,467.6 388.1,460.5 394.3,464.3 404.8,503.3 406.2,506.5 386.5,466.5 416.5,498.6 382.6,459.8 390.1,461.5 391.2,466.1 375.2,448.4 377.3,506.3 369.9,481.5 369.8,485.2 413.1,477.4 403.7,470.3 412.4,482.7 410.3,490.2 414,476.7 419.9,494.3 377.8,471.9 381.4,509.1 381.3,473.7 386,502.6 406.5,467.3 399.4,507.8 370.5,489.5 384.6,461.2 404.4,474 393.3,472.8 374.5,473.9 373.9,488.7 411.5,497.4 388.3,469.1 382,473.1 423.7,489.6 406,476.2 378.3,502.5 423.1,490.5 372.8,486 373,505 400.3,471.3 416.1,497.8 373.1,498.7 386.6,509.7 397.5,499 400.7,499.9 374.3,491.2 391.5,460.5 415.7,491.7 405.6,476.4 373.7,491.9 398.7,471.9 386.9,504 399.8,474.5 389.6,470.8 380.8,474.7 373.5,483.3 383.9,458.1 397.9,461.2 398.5,496.1 406.8,469.6 391,504.3 374.6,500.4 410.6,502.9 388.2,468.4 417.1,472.5 408.8,489.6 416.7,483.6 406.8,506.6 387.1,501.8 386,513.1 367.1,507.9 398.7,478.6 383.5,474.2 372,480.5 393.1,468.1 373.4,503.6 379,499 372,474 408.5,489.1 393.2,470.2 404.7,475.2 388,502.8 405.6,480.6 372.4,481.3 394.8,456.3 389.3,503 383.8,470.7 378.5,469.5 372.3,484.1 389,476.5 395.6,473.9 408.1,500.4 400.8,474.2 383.3,507.5 385.2,472.5 401,495 368,469.8 378.1,508.1 377.6,508.4 396.4,466.8 372.9,486.3 370.3,491.3 401.8,499.3 396.4,463.1 413.8,480.1 396.6,462.7 397.1,465.3 404.4,492.5 404.7,466.6 394.9,500.4 376.1,479.1 374.9,490.3 406.9,497.6 379.4,478 407.3,491.4 405.5,484.7 382.4,501.4 378.9,506.8 388.6,506.3 372.7,485 399.3,502.9 374,474.1 395.9,513.5 408.4,479.8 395.7,497.6 393.2,496.9 405.8,477.5 400.2,501.5 370.8,481.7 377,481.8 405,498.7 384.4,499 411.8,487.5 399.7,492.9 398.9,477 383.9,505.1 380.7,476 375.2,498.3 402.2,491.3 397.7,510 397.7,502.6 385.5,473.8 393.1,501.1 404.3,483.5 405,488.1 367.7,492.2 386,499.5 382.5,469.8 380.9,507.8 381.1,498.4 415.1,493.5 365.6,505.1 411.2,497.1 359.2,493.6 390.3,500.3 382.2,447.8 382,504.9 396.4,480.7 393.4,504.5 385.6,505.5 389.2,464.8 399.6,495.8 388,500.6 378.4,497.2 404,490.8 399.7,481.3 412.3,484.7 394.3,495.6 404,497 394.7,453.1 378.8,505.7 387.1,488.6 410.2,483.7 376.9,478.1 392.2,476.3 408.8,478 406.8,493.7 397.3,504.4 379.7,477.8 408.9,507.6 398.9,507.8 414,480.9 376,489.3 408.6,482.2 381.1,476 379.1,496.9 374.2,495.7 384.4,497.9 403.1,481.8 404.9,470.7 370.2,495.1 376.4,492.9 400.7,478.3 385.4,483.2 388,474 379.9,501.1 395.8,474 374.7,452.9 409.2,480.5 373,485.9 392.1,508.4 382.6,475.2 382.6,477.1 388,478 402.6,481 392.7,502.3 384.9,465.7 401.8,471.5 378.6,448.9 397,469 411.7,474.8 395,508 404.5,477.5 383.8,510.8 391.7,489.2 391.8,466.8 393.7,477.8 394.4,474.8 390.2,510.6 376.5,485.3 389.3,464.2 387.1,506.5 397.4,475.2 388.9,486.3 379.7,487.5 399.8,501.2 415.1,494.2 394.9,493 394.9,474.5 394.7,480 396.5,482.7 378.3,482.4 387.5,480.2 373.2,487.6 398.3,492.1 391.6,490.2 386.8,489.7 381,465.1 375.5,497 401.3,475.1 400.2,464.7 386.8,485.9 389.7,497.5 402.5,489.4 390.4,486.6 373.6,500.4 395,508.1 385.2,492.1 393.6,487.5 377.4,485.6 392.6,496.6 386.5,510.6 381.8,489.7 394.7,475.7 387.4,494.6 399.5,483.6 393.3,493.5 379.2,478.5 381.4,496.4 392.5,490.8 387.1,475.2 379.1,491 385.2,506.5 370.2,495.1 381.5,490.6 399.4,485.7 376.6,493.1 393.7,485.4 386.2,450.7 411.2,486.2 378.9,485.1 383,484.2 404.8,486.7 402.5,456.5 376.5,480.8 389.5,492.9 400.7,484.6 385.7,475 401.7,508.9 396.9,489.3 391.9,472.9 373.8,493.5 381.7,495 379.8,486 407.4,486.5 388.1,491.5 399.4,490.9 392.1,482.8 383.8,480.7 401.5,489.5 388,485.5 392.8,478.7 389.8,482 382.5,484 394.8,475.9 381.6,488.7 390.4,465.3 380.7,477.3 372.8,498.3 398,494.6 396.5,486.3 390,478.7 375,459.8 379,502.9 391.7,494 376.8,489.6 413.8,486.5 380.3,495.9 384.8,499.4 399.7,490.4 396.9,483.7 394.2,477.4 395.8,495.7 397.5,458.8 390.5,485.7 385.8,481.4 388.1,482.8 391.6,478.4 392.7,472.8 398.5,495.8 394.3,501.6 397.5,496.5 386.2,477.4 383.8,494.5 383.8,487.8 387.7,504.2 377.5,494.2 383.5,486.6 392.8,486.1 384.9,497.9 379.6,493.9 378.2,484.7 381.2,479.8 381.2,508.7 402.4,490.6 401.3,485.2 404.2,484 386.3,491.7 380.9,489.5 383.3,486.2 378.2,467.9 389.7,481.5 382.6,495.3 396.4,489.1 381.3,484.5 390.5,498.2 365.4,490.4 386.2,468.6 388.2,497.7 389.4,498.1 384.6,494.8 389.1,499.8 389.5,468.6 389.7,483.4"/>
<path class="s" d="M351.2,431.4V525.1H437.3"/>
<path class="t" d="M352.61,525.10v2.40M389.32,525.10v2.40M426.03,525.10v2.40M351.21,524.38h-2.40M351.21,506.29h-2.40M351.21,488.20h-2.40M351.21,470.11h-2.40M351.21,452.02h-2.40M351.21,433.93h-2.40"/>
<text x="352.61" y="535.10" text-anchor="middle">50</text>
<text x="389.32" y="535.10" text-anchor="middle">100</text>
<text x="426.03" y="535.10" text-anchor="middle">150</text>
<text x="394.24" y="543.90" text-anchor="middle">pressure</text>
<path d="M461.3,525.1 L461.3,523.4 461.7,523.3 462.1,523.1 462.5,523 462.9,522.8 463.2,522.7 463.6,522.5 464,522.3 464.4,522.1 464.8,521.9 465.2,521.7 465.6,521.4 466,521.2 466.4,520.9 466.8,520.6 467.2,520.3 467.6,520 468,519.7 468.4,519.4 468.8,519 469.2,518.6 469.6,518.2 470,517.8 470.3,517.3 470.7,516.8 471.1,516.3 471.5,515.8 471.9,515.2 472.3,514.6 472.7,513.9 473.1,513.2 473.5,512.5 473.9,511.7 474.3,510.9 474.7,510 475.1,509.1 475.5,508.1 475.9,507.1 476.3,506 476.7,504.8 477.1,503.6 477.4,502.3 477.8,500.9 478.2,499.4 478.6,497.9 479,496.3 479.4,494.6 479.8,492.8 480.2,491 480.6,489.1 481,487.1 481.4,485 481.8,482.9 482.2,480.7 482.6,478.5 483,476.2 483.4,473.9 483.8,471.5 484.2,469.1 484.5,466.7 484.9,464.3 485.3,462 485.7,459.6 486.1,457.3 486.5,455 486.9,452.8 487.3,450.7 487.7,448.6 488.1,446.7 488.5,444.9 488.9,443.2 489.3,441.7 489.7,440.3 490.1,439.1 490.5,438.1 490.9,437.3 491.3,436.6 491.6,436.2 492,435.9 492.4,435.9 492.8,436 493.2,436.4 493.6,436.9 494,437.7 494.4,438.7 494.8,439.8 495.2,441.1 495.6,442.6 496,444.2 496.4,446 496.8,447.9 497.2,449.9 497.6,452 498,454.3 498.4,456.5 498.8,458.9 499.1,461.3 499.5,463.7 499.9,466.2 500.3,468.6 500.7,471.1 501.1,473.5 501.5,476 501.9,478.3 502.3,480.7 502.7,482.9 503.1,485.2 503.5,487.3 503.9,489.4 504.3,491.4 504.7,493.3 505.1,495.2 505.5,496.9 505.9,498.6 506.2,500.2 506.6,501.8 507,503.2 507.4,504.6 507.8,505.9 508.2,507.1 508.6,508.2 509,509.3 509.4,510.3 509.8,511.2 510.2,512.1 510.6,513 511,513.7 511.4,514.5 511.8,515.2 512.2,515.8 512.6,516.4 513,517 513.3,517.5 513.7,518 514.1,518.4 514.5,518.9 514.9,519.3 515.3,519.6 515.7,520 516.1,520.3 516.5,520.6 516.9,520.9 517.3,521.2 517.7,521.5 518.1,521.7 518.5,521.9 518.9,522.1 519.3,522.4 519.7,522.5 520.1,522.7 520.4,522.9 520.8,523 521.2,523.2 521.6,523.3 522,523.5 522.4,523.6 522.8,523.7 523.2,523.8 523.6,523.9 524,524 524.4,524.1 524.8,524.1 525.2,524.2 525.6,524.3 526,524.4 526.4,524.4 526.8,524.5 527.2,524.5 527.6,524.6 527.9,524.6 528.3,524.7 528.7,524.7 529.1,524.7 529.5,524.8 529.9,524.8 530.3,524.8 530.7,524.8 531.1,524.9 531.5,524.9 531.9,524.9 532.3,524.9 532.7,524.9 533.1,525 533.5,525 533.9,525 534.3,525 534.7,525 535,525 535.4,525 535.8,525 536.2,525 536.6,525 537,525.1 537.4,525.1 537.8,525.1 538.2,525.1 538.6,525.1 539,525.1 539.4,525.1 539.8,525.1 L539.8,525.1Z" fill="#1f77b4" fill-opacity=".25"/>
<polyline points="461.3,523.4 461.7,523.3 462.1,523.1 462.5,523 462.9,522.8 463.2,522.7 463.6,522.5 464,522.3 464.4,522.1 464.8,521.9 465.2,521.7 465.6,521.4 466,521.2 466.4,520.9 466.8,520.6 467.2,520.3 467.6,520 468,519.7 468.4,519.4 468.8,519 469.2,518.6 469.6,518.2 470,517.8 470.3,517.3 470.7,516.8 471.1,516.3 471.5,515.8 471.9,515.2 472.3,514.6 472.7,513.9 473.1,513.2 473.5,512.5 473.9,511.7 474.3,510.9 474.7,510 475.1,509.1 475.5,508.1 475.9,507.1 476.3,506 476.7,504.8 477.1,503.6 477.4,502.3 477.8,500.9 478.2,499.4 478.6,497.9 479,496.3 479.4,494.6 479.8,492.8 480.2,491 480.6,489.1 481,487.1 481.4,485 481.8,482.9 482.2,480.7 482.6,478.5 483,476.2 483.4,473.9 483.8,471.5 484.2,469.1 484.5,466.7 484.9,464.3 485.3,462 485.7,459.6 486.1,457.3 486.5,455 486.9,452.8 487.3,450.7 487.7,448.6 488.1,446.7 488.5,444.9 488.9,443.2 489.3,441.7 489.7,440.3 490.1,439.1 490.5,438.1 490.9,437.3 491.3,436.6 491.6,436.2 492,435.9 492.4,435.9 492.8,436 493.2,436.4 493.6,436.9 494,437.7 494.4,438.7 494.8,439.8 495.2,441.1 495.6,442.6 496,444.2 496.4,446 496.8,447.9 497.2,449.9 497.6,452 498,454.3 498.4,456.5 498.8,458.9 499.1,461.3 499.5,463.7 499.9,466.2 500.3,468.6 500.7,471.1 501.1,473.5 501.5,476 501.9,478.3 502.3,480.7 502.7,482.9 503.1,485.2 503.5,487.3 503.9,489.4 504.3,491.4 504.7,493.3 505.1,495.2 505.5,496.9 505.9,498.6 506.2,500.2 506.6,501.8 507,503.2 507.4,504.6 507.8,505.9 508.2,507.1 508.6,508.2 509,509.3 509.4,510.3 509.8,511.2 510.2,512.1 510.6,513 511,513.7 511.4,514.5 511.8,515.2 512.2,515.8 512.6,516.4 513,517 513.3,517.5 513.7,518 514.1,518.4 514.5,518.9 514.9,519.3 515.3,519.6 515.7,520 516.1,520.3 516.5,520.6 516.9,520.9 517.3,521.2 517.7,521.5 518.1,521.7 518.5,521.9 518.9,522.1 519.3,522.4 519.7,522.5 520.1,522.7 520.4,522.9 520.8,523 521.2,523.2 521.6,523.3 522,523.5 522.4,523.6 522.8,523.7 523.2,523.8 523.6,523.9 524,524 524.4,524.1 524.8,524.1 525.2,524.2 525.6,524.3 526,524.4 526.4,524.4 526.8,524.5 527.2,524.5 527.6,524.6 527.9,524.6 528.3,524.7 528.7,524.7 529.1,524.7 529.5,524.8 529.9,524.8 530.3,524.8 530.7,524.8 531.1,524.9 531.5,524.9 531.9,524.9 532.3,524.9 532.7,524.9 533.1,525 533.5,525 533.9,525 534.3,525 534.7,525 535,525 535.4,525 535.8,525 536.2,525 536.6,525 537,525.1 537.4,525.1 537.8,525.1 538.2,525.1 538.6,525.1 539,525.1 539.4,525.1 539.8,525.1" fill="none" stroke="#1f77b4" stroke-width="1.1" stroke-linejoin="round" stroke-linecap="square"/>
<path class="s" d="M457.2,431.4V525.1H543.3"/>
<path class="t" d="M461.60,525.10v2.40M492.31,525.10v2.40M523.02,525.10v2.40M457.24,524.38h-2.40M457.24,506.29h-2.40M457.24,488.20h-2.40M457.24,470.11h-2.40M457.24,452.02h-2.40M457.24,433.93h-2.40"/>
<text x="461.60" y="535.10" text-anchor="middle">20</text>
<text x="492.31" y="535.10" text-anchor="middle">40</text>
<text x="523.02" y="535.10" text-anchor="middle">60</text>
<text x="500.26" y="543.90" text-anchor="middle">vibration</text>
</svg></body></html>
